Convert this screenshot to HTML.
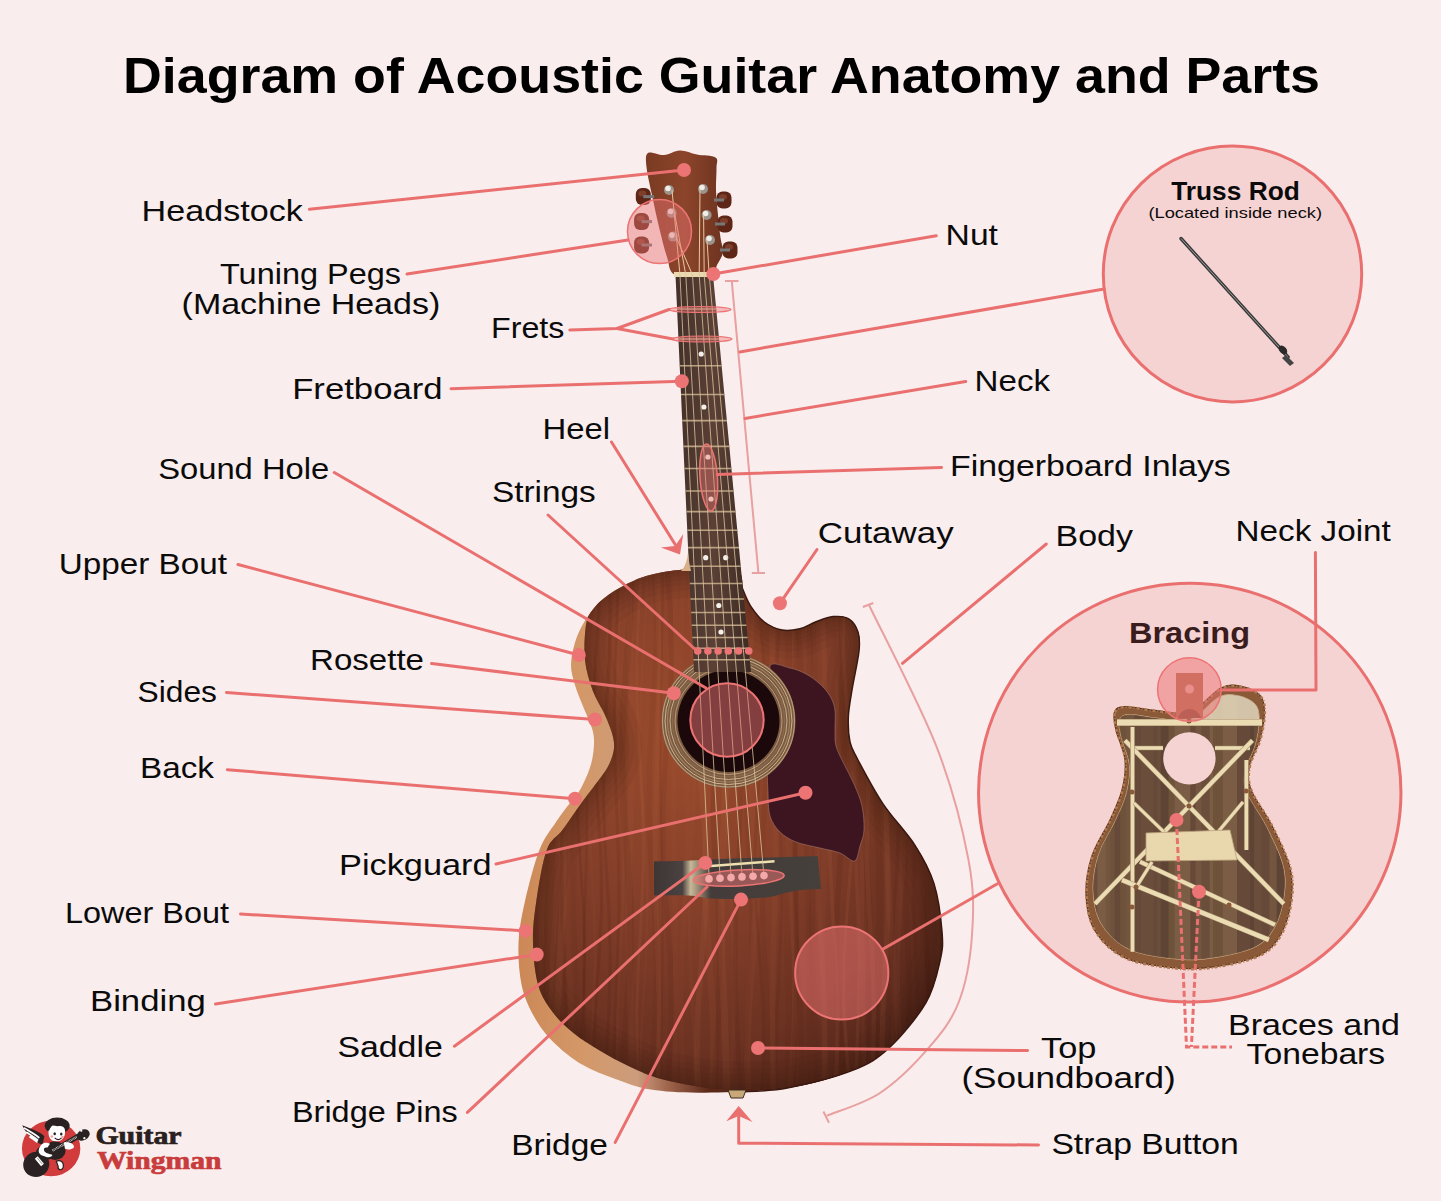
<!DOCTYPE html>
<html><head><meta charset="utf-8"><style>
html,body{margin:0;padding:0;background:#FAEDED;width:1441px;height:1201px;overflow:hidden}
svg{display:block}
</style></head><body>
<svg width="1441" height="1201" viewBox="0 0 1441 1201">
<defs>
<linearGradient id="gHead" x1="0" y1="0" x2="1" y2="0"><stop offset="0" stop-color="#7a3a22"/><stop offset="0.5" stop-color="#8c452b"/><stop offset="1" stop-color="#6e3320"/></linearGradient>
<radialGradient id="gTop" cx="0.38" cy="0.32" r="0.8"><stop offset="0" stop-color="#9c4c2c"/><stop offset="0.4" stop-color="#86402a"/><stop offset="0.75" stop-color="#6c3222"/><stop offset="1" stop-color="#4c2218"/></radialGradient>
<linearGradient id="gSide" x1="0" y1="0" x2="1" y2="0"><stop offset="0" stop-color="#cc8856"/><stop offset="0.15" stop-color="#d49868"/><stop offset="0.28" stop-color="#cc9c7c"/><stop offset="0.36" stop-color="#9a6048"/><stop offset="0.45" stop-color="#5a2818"/><stop offset="1" stop-color="#4a2018"/></linearGradient>
<linearGradient id="gBoard" x1="0" y1="0" x2="1" y2="0"><stop offset="0" stop-color="#42302a"/><stop offset="0.5" stop-color="#5a4036"/><stop offset="1" stop-color="#3c2a24"/></linearGradient>
<linearGradient id="gBridge" x1="0" y1="0" x2="1" y2="0"><stop offset="0" stop-color="#3e3634"/><stop offset="0.17" stop-color="#4a4240"/><stop offset="0.22" stop-color="#c8b898"/><stop offset="0.28" stop-color="#8a7a68"/><stop offset="0.34" stop-color="#443c3a"/><stop offset="1" stop-color="#45403c"/></linearGradient>
<radialGradient id="gWood" cx="0.5" cy="0.5" r="0.6"><stop offset="0" stop-color="#7c5a44"/><stop offset="1" stop-color="#5e4232"/></radialGradient>
<pattern id="grain" width="23" height="120" patternUnits="userSpaceOnUse"><path d="M4,0 C7,30 2,80 4,120" stroke="#3a1408" stroke-opacity="0.10" stroke-width="4" fill="none"/><path d="M15,0 C13,40 18,70 15,120" stroke="#c07050" stroke-opacity="0.08" stroke-width="3" fill="none"/></pattern>

</defs>
<rect width="1441" height="1201" fill="#FAEDED"/>
<ellipse cx="1232.5" cy="274" rx="129.2" ry="127.9" fill="#F6D3D3" stroke="#EA7070" stroke-width="3"/>
<ellipse cx="1189.75" cy="792.6" rx="211.2" ry="209.4" fill="#F6D3D3" stroke="#EA7070" stroke-width="3"/>
<path d="M869.0,605.0 C880.2,628.6 919.9,704.2 936.5,746.7 C953.1,789.2 962.6,828.6 968.5,860.0 C974.4,891.4 973.6,911.2 972.0,935.0 C970.4,958.8 966.0,983.5 958.6,1002.5 C951.2,1021.5 940.6,1034.1 927.5,1049.2 C914.4,1064.3 896.8,1081.9 880.0,1093.0 C863.2,1104.1 835.8,1111.9 827.0,1115.7" fill="none" stroke="#E8A0A0" stroke-width="2"/>
<path d="M862.9,607 L873.3,603 M823.4,111.5" stroke="#E8A0A0" stroke-width="2"/>
<path d="M823.4,1111.5 L829,1122.8" stroke="#E8A0A0" stroke-width="2"/>
<path d="M731.8,281.3 L758.4,572.9 M725,281 L738.5,281 M751.8,573 L765,573" stroke="#E8A0A0" stroke-width="2" fill="none"/>
<path d="M736.0,570.0 C744.9,573.7 741.0,584.9 743.5,591.0 C746.0,597.1 747.5,601.4 751.0,606.6 C754.5,611.8 759.1,618.1 764.3,622.0 C769.5,625.9 776.1,628.9 782.0,630.0 C787.9,631.1 794.2,630.1 799.8,628.8 C805.4,627.5 809.9,624.0 815.4,622.0 C820.9,620.0 827.5,617.1 833.0,616.6 C838.5,616.1 844.5,616.2 848.7,618.8 C852.9,621.4 856.3,626.6 858.0,632.0 C859.7,637.4 860.0,641.3 859.0,651.0 C858.0,660.7 853.8,678.9 852.0,690.0 C850.2,701.1 848.6,708.8 848.3,717.5 C848.0,726.2 848.5,735.1 850.0,742.0 C851.5,748.9 852.0,748.7 857.5,759.0 C863.0,769.3 873.4,789.4 883.0,803.8 C892.6,818.2 906.5,832.0 915.0,845.3 C923.5,858.6 929.5,869.2 934.0,883.6 C938.5,898.0 941.0,918.8 942.0,931.5 C943.0,944.2 942.9,948.2 940.2,960.0 C937.5,971.8 934.5,987.9 926.0,1002.5 C917.5,1017.1 901.5,1036.5 889.3,1047.8 C877.0,1059.1 869.5,1063.7 852.5,1070.4 C835.5,1077.1 811.9,1084.3 787.3,1088.0 C762.7,1091.7 727.8,1092.4 705.0,1092.7 C682.2,1093.0 665.7,1091.9 650.8,1089.6 C635.9,1087.3 626.9,1083.2 615.4,1079.0 C603.9,1074.8 592.4,1070.8 582.0,1064.6 C571.6,1058.4 561.0,1049.7 553.0,1041.7 C545.0,1033.7 539.4,1026.1 534.2,1016.7 C529.0,1007.3 524.3,997.6 521.7,985.4 C519.1,973.2 518.0,957.6 518.5,943.7 C519.0,929.8 521.3,917.6 524.8,902.0 C528.3,886.4 534.2,863.3 539.4,850.0 C544.6,836.7 550.9,829.8 556.0,822.0 C561.1,814.2 566.0,808.3 570.0,803.0 C574.0,797.7 576.7,795.9 580.0,790.0 C583.3,784.1 587.7,774.6 590.0,767.5 C592.3,760.4 593.4,753.8 593.8,747.5 C594.2,741.2 594.4,737.1 592.5,730.0 C590.6,722.9 585.4,712.5 582.5,705.0 C579.6,697.5 576.9,691.7 575.0,685.0 C573.1,678.3 571.0,672.1 571.0,665.0 C571.0,657.9 573.1,649.2 575.0,642.5 C576.9,635.8 579.6,630.4 582.5,625.0 C585.4,619.6 588.8,614.6 592.5,610.0 C596.2,605.4 599.6,601.7 605.0,597.5 C610.4,593.3 617.5,588.8 625.0,585.0 C632.5,581.2 639.2,577.7 650.0,575.0 C660.8,572.3 675.7,569.8 690.0,569.0 C704.3,568.2 727.1,566.3 736.0,570.0Z" fill="url(#gSide)"/>
<path d="M736.0,570.0 C744.9,573.7 741.0,584.9 743.5,591.0 C746.0,597.1 747.5,601.4 751.0,606.6 C754.5,611.8 759.1,618.1 764.3,622.0 C769.5,625.9 776.1,628.9 782.0,630.0 C787.9,631.1 794.2,630.1 799.8,628.8 C805.4,627.5 809.9,624.0 815.4,622.0 C820.9,620.0 827.5,617.1 833.0,616.6 C838.5,616.1 844.5,616.2 848.7,618.8 C852.9,621.4 856.3,626.6 858.0,632.0 C859.7,637.4 860.0,641.3 859.0,651.0 C858.0,660.7 853.8,678.9 852.0,690.0 C850.2,701.1 848.6,708.8 848.3,717.5 C848.0,726.2 848.5,735.1 850.0,742.0 C851.5,748.9 852.0,748.7 857.5,759.0 C863.0,769.3 873.4,789.4 883.0,803.8 C892.6,818.2 906.5,832.0 915.0,845.3 C923.5,858.6 929.5,869.2 934.0,883.6 C938.5,898.0 941.0,918.8 942.0,931.5 C943.0,944.2 942.9,948.2 940.2,960.0 C937.5,971.8 934.5,987.9 926.0,1002.5 C917.5,1017.1 901.5,1036.5 889.3,1047.8 C877.0,1059.1 869.5,1063.7 852.5,1070.4 C835.5,1077.1 807.8,1084.9 787.3,1088.0 C766.8,1091.1 743.5,1089.1 729.8,1089.0 C716.1,1088.9 716.4,1089.2 705.0,1087.5 C693.6,1085.8 673.8,1082.5 661.2,1079.0 C648.8,1075.5 640.4,1071.5 630.0,1066.7 C619.6,1061.9 608.1,1055.6 598.8,1050.0 C589.4,1044.4 581.4,1039.5 573.8,1033.3 C566.1,1027.0 558.9,1020.5 553.0,1012.5 C547.1,1004.5 541.6,996.9 538.3,985.4 C535.0,973.9 533.4,957.6 533.0,943.7 C532.6,929.8 533.9,917.6 536.2,902.0 C538.5,886.4 542.3,862.0 546.7,850.0 C551.1,838.0 557.0,837.5 562.5,830.0 C568.0,822.5 574.6,812.5 580.0,805.0 C585.4,797.5 590.4,791.2 595.0,785.0 C599.6,778.8 604.4,773.3 607.5,767.5 C610.6,761.7 613.0,755.4 613.8,750.0 C614.6,744.6 614.0,740.8 612.5,735.0 C611.0,729.2 608.3,722.5 605.0,715.0 C601.7,707.5 595.8,699.2 592.5,690.0 C589.2,680.8 586.1,670.8 585.0,660.0 C583.9,649.2 584.8,633.3 586.0,625.0 C587.2,616.7 589.3,614.6 592.5,610.0 C595.7,605.4 599.6,601.7 605.0,597.5 C610.4,593.3 617.5,588.8 625.0,585.0 C632.5,581.2 639.2,577.7 650.0,575.0 C660.8,572.3 675.7,569.8 690.0,569.0 C704.3,568.2 727.1,566.3 736.0,570.0Z" fill="url(#gTop)"/>
<clipPath id="topclip0"><path d="M736.0,570.0 C744.9,573.7 741.0,584.9 743.5,591.0 C746.0,597.1 747.5,601.4 751.0,606.6 C754.5,611.8 759.1,618.1 764.3,622.0 C769.5,625.9 776.1,628.9 782.0,630.0 C787.9,631.1 794.2,630.1 799.8,628.8 C805.4,627.5 809.9,624.0 815.4,622.0 C820.9,620.0 827.5,617.1 833.0,616.6 C838.5,616.1 844.5,616.2 848.7,618.8 C852.9,621.4 856.3,626.6 858.0,632.0 C859.7,637.4 860.0,641.3 859.0,651.0 C858.0,660.7 853.8,678.9 852.0,690.0 C850.2,701.1 848.6,708.8 848.3,717.5 C848.0,726.2 848.5,735.1 850.0,742.0 C851.5,748.9 852.0,748.7 857.5,759.0 C863.0,769.3 873.4,789.4 883.0,803.8 C892.6,818.2 906.5,832.0 915.0,845.3 C923.5,858.6 929.5,869.2 934.0,883.6 C938.5,898.0 941.0,918.8 942.0,931.5 C943.0,944.2 942.9,948.2 940.2,960.0 C937.5,971.8 934.5,987.9 926.0,1002.5 C917.5,1017.1 901.5,1036.5 889.3,1047.8 C877.0,1059.1 869.5,1063.7 852.5,1070.4 C835.5,1077.1 807.8,1084.9 787.3,1088.0 C766.8,1091.1 743.5,1089.1 729.8,1089.0 C716.1,1088.9 716.4,1089.2 705.0,1087.5 C693.6,1085.8 673.8,1082.5 661.2,1079.0 C648.8,1075.5 640.4,1071.5 630.0,1066.7 C619.6,1061.9 608.1,1055.6 598.8,1050.0 C589.4,1044.4 581.4,1039.5 573.8,1033.3 C566.1,1027.0 558.9,1020.5 553.0,1012.5 C547.1,1004.5 541.6,996.9 538.3,985.4 C535.0,973.9 533.4,957.6 533.0,943.7 C532.6,929.8 533.9,917.6 536.2,902.0 C538.5,886.4 542.3,862.0 546.7,850.0 C551.1,838.0 557.0,837.5 562.5,830.0 C568.0,822.5 574.6,812.5 580.0,805.0 C585.4,797.5 590.4,791.2 595.0,785.0 C599.6,778.8 604.4,773.3 607.5,767.5 C610.6,761.7 613.0,755.4 613.8,750.0 C614.6,744.6 614.0,740.8 612.5,735.0 C611.0,729.2 608.3,722.5 605.0,715.0 C601.7,707.5 595.8,699.2 592.5,690.0 C589.2,680.8 586.1,670.8 585.0,660.0 C583.9,649.2 584.8,633.3 586.0,625.0 C587.2,616.7 589.3,614.6 592.5,610.0 C595.7,605.4 599.6,601.7 605.0,597.5 C610.4,593.3 617.5,588.8 625.0,585.0 C632.5,581.2 639.2,577.7 650.0,575.0 C660.8,572.3 675.7,569.8 690.0,569.0 C704.3,568.2 727.1,566.3 736.0,570.0Z"/></clipPath>
<g clip-path="url(#topclip0)">
<path d="M519.9,560.0 L517.7,610.0 L517.2,660.0 L518.9,710.0 L521.4,760.0 L522.8,810.0 L522.1,860.0 L519.8,910.0 L517.6,960.0 L517.3,1010.0 L518.9,1060.0 L521.4,1110.0" stroke="#c87850" stroke-opacity="0.114" stroke-width="4.3" fill="none" stroke-linejoin="round"/>
<path d="M529.4,560.0 L531.3,610.0 L530.0,660.0 L526.5,710.0 L523.5,760.0 L523.2,810.0 L525.9,860.0 L529.5,910.0 L531.3,960.0 L529.9,1010.0 L526.4,1060.0 L523.5,1110.0" stroke="#c87850" stroke-opacity="0.090" stroke-width="2.9" fill="none" stroke-linejoin="round"/>
<path d="M532.1,560.0 L533.1,610.0 L533.4,660.0 L532.9,710.0 L531.8,760.0 L531.1,810.0 L531.3,860.0 L532.1,910.0 L533.1,960.0 L533.4,1010.0 L532.8,1060.0 L531.8,1110.0" stroke="#c87850" stroke-opacity="0.095" stroke-width="2.5" fill="none" stroke-linejoin="round"/>
<path d="M541.8,560.0 L541.1,610.0 L541.0,660.0 L541.7,710.0 L542.6,760.0 L543.0,810.0 L542.7,860.0 L541.8,910.0 L541.0,960.0 L541.0,1010.0 L541.7,1060.0 L542.6,1110.0" stroke="#c87850" stroke-opacity="0.053" stroke-width="5.3" fill="none" stroke-linejoin="round"/>
<path d="M546.5,560.0 L544.0,610.0 L542.6,660.0 L543.3,710.0 L545.6,760.0 L547.8,810.0 L548.1,860.0 L546.4,910.0 L543.9,960.0 L542.6,1010.0 L543.4,1060.0 L545.7,1110.0" stroke="#3a1408" stroke-opacity="0.042" stroke-width="3.0" fill="none" stroke-linejoin="round"/>
<path d="M555.3,560.0 L552.2,610.0 L550.7,660.0 L551.9,710.0 L555.0,760.0 L557.5,810.0 L557.6,860.0 L555.2,910.0 L552.1,960.0 L550.7,1010.0 L552.0,1060.0 L555.0,1110.0" stroke="#c87850" stroke-opacity="0.080" stroke-width="4.6" fill="none" stroke-linejoin="round"/>
<path d="M562.8,560.0 L560.2,610.0 L557.0,660.0 L555.4,710.0 L556.8,760.0 L560.0,810.0 L562.7,860.0 L562.7,910.0 L560.2,960.0 L556.9,1010.0 L555.4,1060.0 L556.8,1110.0" stroke="#c87850" stroke-opacity="0.107" stroke-width="7.0" fill="none" stroke-linejoin="round"/>
<path d="M561.7,560.0 L563.7,610.0 L565.8,660.0 L566.4,710.0 L565.1,760.0 L562.9,810.0 L561.4,860.0 L561.7,910.0 L563.7,960.0 L565.8,1010.0 L566.4,1060.0 L565.1,1110.0" stroke="#3a1408" stroke-opacity="0.101" stroke-width="3.4" fill="none" stroke-linejoin="round"/>
<path d="M568.6,560.0 L570.2,610.0 L571.3,660.0 L571.1,710.0 L569.8,760.0 L568.3,810.0 L567.7,860.0 L568.6,910.0 L570.2,960.0 L571.3,1010.0 L571.1,1060.0 L569.7,1110.0" stroke="#c87850" stroke-opacity="0.040" stroke-width="6.8" fill="none" stroke-linejoin="round"/>
<path d="M572.4,560.0 L574.2,610.0 L577.2,660.0 L579.2,710.0 L578.7,760.0 L576.0,810.0 L573.2,860.0 L572.4,910.0 L574.2,960.0 L577.3,1010.0 L579.3,1060.0 L578.6,1110.0" stroke="#3a1408" stroke-opacity="0.046" stroke-width="6.9" fill="none" stroke-linejoin="round"/>
<path d="M583.5,560.0 L584.8,610.0 L583.0,660.0 L579.6,710.0 L577.0,760.0 L577.3,810.0 L580.2,860.0 L583.5,910.0 L584.8,960.0 L583.0,1010.0 L579.5,1060.0 L577.0,1110.0" stroke="#3a1408" stroke-opacity="0.117" stroke-width="2.4" fill="none" stroke-linejoin="round"/>
<path d="M584.8,560.0 L583.8,610.0 L584.1,660.0 L585.3,710.0 L586.7,760.0 L587.2,810.0 L586.3,860.0 L584.8,910.0 L583.8,960.0 L584.1,1010.0 L585.4,1060.0 L586.7,1110.0" stroke="#3a1408" stroke-opacity="0.104" stroke-width="2.5" fill="none" stroke-linejoin="round"/>
<path d="M594.0,560.0 L595.2,610.0 L593.6,660.0 L590.6,710.0 L588.3,760.0 L588.5,810.0 L591.1,860.0 L594.0,910.0 L595.2,960.0 L593.6,1010.0 L590.5,1060.0 L588.3,1110.0" stroke="#c87850" stroke-opacity="0.050" stroke-width="3.0" fill="none" stroke-linejoin="round"/>
<path d="M601.5,560.0 L598.9,610.0 L595.3,660.0 L593.4,710.0 L594.6,760.0 L598.1,810.0 L601.1,860.0 L601.5,910.0 L598.8,960.0 L595.2,1010.0 L593.3,1060.0 L594.7,1110.0" stroke="#3a1408" stroke-opacity="0.118" stroke-width="3.1" fill="none" stroke-linejoin="round"/>
<path d="M608.8,560.0 L610.3,610.0 L609.1,660.0 L606.1,710.0 L603.6,760.0 L603.5,810.0 L605.8,860.0 L608.9,910.0 L610.3,960.0 L609.0,1010.0 L606.0,1060.0 L603.5,1110.0" stroke="#3a1408" stroke-opacity="0.108" stroke-width="3.1" fill="none" stroke-linejoin="round"/>
<path d="M618.9,560.0 L617.5,610.0 L615.5,660.0 L614.4,710.0 L615.0,760.0 L616.8,810.0 L618.6,860.0 L618.9,910.0 L617.5,960.0 L615.5,1010.0 L614.4,1060.0 L615.0,1110.0" stroke="#3a1408" stroke-opacity="0.102" stroke-width="3.1" fill="none" stroke-linejoin="round"/>
<path d="M622.6,560.0 L619.9,610.0 L617.3,660.0 L616.9,710.0 L619.0,760.0 L622.0,810.0 L623.6,860.0 L622.6,910.0 L619.8,960.0 L617.3,1010.0 L617.0,1060.0 L619.1,1110.0" stroke="#c87850" stroke-opacity="0.059" stroke-width="2.5" fill="none" stroke-linejoin="round"/>
<path d="M630.4,560.0 L630.3,610.0 L627.2,660.0 L623.4,710.0 L621.9,760.0 L623.7,810.0 L627.5,860.0 L630.5,910.0 L630.3,960.0 L627.1,1010.0 L623.4,1060.0 L621.9,1110.0" stroke="#3a1408" stroke-opacity="0.086" stroke-width="6.8" fill="none" stroke-linejoin="round"/>
<path d="M628.7,560.0 L629.2,610.0 L630.7,660.0 L632.0,710.0 L632.1,760.0 L630.9,810.0 L629.4,860.0 L628.7,910.0 L629.3,960.0 L630.7,1010.0 L632.0,1060.0 L632.0,1110.0" stroke="#c87850" stroke-opacity="0.060" stroke-width="6.5" fill="none" stroke-linejoin="round"/>
<path d="M641.6,560.0 L638.7,610.0 L636.7,660.0 L637.3,710.0 L639.9,760.0 L642.6,810.0 L643.4,860.0 L641.6,910.0 L638.6,960.0 L636.7,1010.0 L637.3,1060.0 L639.9,1110.0" stroke="#c87850" stroke-opacity="0.111" stroke-width="3.0" fill="none" stroke-linejoin="round"/>
<path d="M647.6,560.0 L646.0,610.0 L642.7,660.0 L640.2,710.0 L640.4,760.0 L643.1,810.0 L646.3,860.0 L647.5,910.0 L645.9,960.0 L642.6,1010.0 L640.2,1060.0 L640.4,1110.0" stroke="#c87850" stroke-opacity="0.059" stroke-width="2.2" fill="none" stroke-linejoin="round"/>
<path d="M654.1,560.0 L656.3,610.0 L655.6,660.0 L652.5,710.0 L649.5,760.0 L648.7,810.0 L650.8,860.0 L654.2,910.0 L656.3,960.0 L655.5,1010.0 L652.5,1060.0 L649.4,1110.0" stroke="#3a1408" stroke-opacity="0.054" stroke-width="5.0" fill="none" stroke-linejoin="round"/>
<path d="M656.0,560.0 L657.9,610.0 L659.1,660.0 L658.8,710.0 L657.2,760.0 L655.5,810.0 L655.0,860.0 L656.1,910.0 L657.9,960.0 L659.1,1010.0 L658.8,1060.0 L657.2,1110.0" stroke="#c87850" stroke-opacity="0.089" stroke-width="4.8" fill="none" stroke-linejoin="round"/>
<path d="M662.6,560.0 L662.7,610.0 L661.8,660.0 L660.8,710.0 L660.3,760.0 L660.8,810.0 L661.8,860.0 L662.6,910.0 L662.6,960.0 L661.8,1010.0 L660.7,1060.0 L660.3,1110.0" stroke="#3a1408" stroke-opacity="0.076" stroke-width="2.1" fill="none" stroke-linejoin="round"/>
<path d="M666.5,560.0 L670.3,610.0 L671.7,660.0 L669.6,710.0 L665.6,760.0 L662.8,810.0 L663.2,860.0 L666.6,910.0 L670.4,960.0 L671.6,1010.0 L669.5,1060.0 L665.5,1110.0" stroke="#3a1408" stroke-opacity="0.069" stroke-width="4.9" fill="none" stroke-linejoin="round"/>
<path d="M674.8,560.0 L675.7,610.0 L675.8,660.0 L675.1,710.0 L674.1,760.0 L673.6,810.0 L673.9,860.0 L674.9,910.0 L675.7,960.0 L675.8,1010.0 L675.1,1060.0 L674.1,1110.0" stroke="#c87850" stroke-opacity="0.051" stroke-width="5.5" fill="none" stroke-linejoin="round"/>
<path d="M684.5,560.0 L681.6,610.0 L680.6,660.0 L682.2,710.0 L685.3,760.0 L687.4,810.0 L687.1,860.0 L684.4,910.0 L681.5,960.0 L680.6,1010.0 L682.3,1060.0 L685.3,1110.0" stroke="#c87850" stroke-opacity="0.042" stroke-width="5.5" fill="none" stroke-linejoin="round"/>
<path d="M689.0,560.0 L690.0,610.0 L692.7,660.0 L694.9,710.0 L695.2,760.0 L693.1,810.0 L690.4,860.0 L689.0,910.0 L690.1,960.0 L692.7,1010.0 L695.0,1060.0 L695.1,1110.0" stroke="#c87850" stroke-opacity="0.046" stroke-width="3.6" fill="none" stroke-linejoin="round"/>
<path d="M705.2,560.0 L701.6,610.0 L697.9,660.0 L696.9,710.0 L699.4,760.0 L703.4,810.0 L706.0,860.0 L705.2,910.0 L701.6,960.0 L697.9,1010.0 L696.9,1060.0 L699.4,1110.0" stroke="#c87850" stroke-opacity="0.103" stroke-width="5.7" fill="none" stroke-linejoin="round"/>
<path d="M706.1,560.0 L709.5,610.0 L712.7,660.0 L713.3,710.0 L710.9,760.0 L707.3,810.0 L705.2,860.0 L706.2,910.0 L709.5,960.0 L712.7,1010.0 L713.3,1060.0 L710.9,1110.0" stroke="#c87850" stroke-opacity="0.073" stroke-width="6.5" fill="none" stroke-linejoin="round"/>
<path d="M718.0,560.0 L719.7,610.0 L718.9,660.0 L716.1,710.0 L713.5,760.0 L713.0,810.0 L715.0,860.0 L718.0,910.0 L719.7,960.0 L718.8,1010.0 L716.0,1060.0 L713.5,1110.0" stroke="#3a1408" stroke-opacity="0.087" stroke-width="5.1" fill="none" stroke-linejoin="round"/>
<path d="M721.2,560.0 L722.0,610.0 L724.1,660.0 L726.0,710.0 L726.2,760.0 L724.6,810.0 L722.4,860.0 L721.2,910.0 L722.0,960.0 L724.2,1010.0 L726.0,1060.0 L726.2,1110.0" stroke="#c87850" stroke-opacity="0.098" stroke-width="7.0" fill="none" stroke-linejoin="round"/>
<path d="M731.6,560.0 L734.4,610.0 L734.5,660.0 L731.9,710.0 L728.4,760.0 L726.8,810.0 L728.3,860.0 L731.7,910.0 L734.4,960.0 L734.5,1010.0 L731.8,1060.0 L728.4,1110.0" stroke="#c87850" stroke-opacity="0.047" stroke-width="4.2" fill="none" stroke-linejoin="round"/>
<path d="M736.1,560.0 L735.1,610.0 L736.3,660.0 L738.9,710.0 L740.8,760.0 L740.7,810.0 L738.5,860.0 L736.1,910.0 L735.1,960.0 L736.3,1010.0 L738.9,1060.0 L740.8,1110.0" stroke="#3a1408" stroke-opacity="0.096" stroke-width="4.4" fill="none" stroke-linejoin="round"/>
<path d="M751.0,560.0 L750.6,610.0 L747.8,660.0 L744.8,710.0 L743.8,760.0 L745.7,810.0 L748.9,860.0 L751.1,910.0 L750.5,960.0 L747.7,1010.0 L744.7,1060.0 L743.8,1110.0" stroke="#3a1408" stroke-opacity="0.064" stroke-width="3.3" fill="none" stroke-linejoin="round"/>
<path d="M755.7,560.0 L752.5,610.0 L748.7,660.0 L747.1,710.0 L749.0,760.0 L752.9,810.0 L755.9,860.0 L755.7,910.0 L752.5,960.0 L748.6,1010.0 L747.1,1060.0 L749.1,1110.0" stroke="#c87850" stroke-opacity="0.075" stroke-width="6.5" fill="none" stroke-linejoin="round"/>
<path d="M756.2,560.0 L760.0,610.0 L763.4,660.0 L763.7,710.0 L760.7,760.0 L756.7,810.0 L754.7,860.0 L756.2,910.0 L760.1,960.0 L763.4,1010.0 L763.7,1060.0 L760.6,1110.0" stroke="#3a1408" stroke-opacity="0.104" stroke-width="3.0" fill="none" stroke-linejoin="round"/>
<path d="M762.5,560.0 L764.7,610.0 L767.1,660.0 L768.0,710.0 L766.6,760.0 L764.1,810.0 L762.2,860.0 L762.5,910.0 L764.7,960.0 L767.2,1010.0 L768.0,1060.0 L766.6,1110.0" stroke="#3a1408" stroke-opacity="0.051" stroke-width="4.9" fill="none" stroke-linejoin="round"/>
<path d="M774.5,560.0 L773.0,610.0 L772.3,660.0 L772.8,710.0 L774.2,760.0 L775.4,810.0 L775.5,860.0 L774.5,910.0 L773.0,960.0 L772.3,1010.0 L772.9,1060.0 L774.3,1110.0" stroke="#c87850" stroke-opacity="0.062" stroke-width="5.6" fill="none" stroke-linejoin="round"/>
<path d="M781.6,560.0 L779.7,610.0 L777.1,660.0 L775.9,710.0 L777.0,760.0 L779.5,810.0 L781.6,860.0 L781.6,910.0 L779.6,960.0 L777.1,1010.0 L775.9,1060.0 L777.0,1110.0" stroke="#3a1408" stroke-opacity="0.090" stroke-width="3.1" fill="none" stroke-linejoin="round"/>
<path d="M787.0,560.0 L787.9,610.0 L788.7,660.0 L788.8,710.0 L788.2,760.0 L787.2,810.0 L786.7,860.0 L787.0,910.0 L787.9,960.0 L788.7,1010.0 L788.8,1060.0 L788.1,1110.0" stroke="#3a1408" stroke-opacity="0.046" stroke-width="6.9" fill="none" stroke-linejoin="round"/>
<path d="M791.6,560.0 L794.6,610.0 L795.0,660.0 L792.4,710.0 L788.8,760.0 L786.9,810.0 L788.2,860.0 L791.6,910.0 L794.7,960.0 L795.0,1010.0 L792.3,1060.0 L788.7,1110.0" stroke="#c87850" stroke-opacity="0.065" stroke-width="5.5" fill="none" stroke-linejoin="round"/>
<path d="M796.5,560.0 L796.9,610.0 L795.9,660.0 L794.2,710.0 L793.1,760.0 L793.5,810.0 L795.0,860.0 L796.5,910.0 L796.9,960.0 L795.8,1010.0 L794.2,1060.0 L793.1,1110.0" stroke="#3a1408" stroke-opacity="0.106" stroke-width="4.3" fill="none" stroke-linejoin="round"/>
<path d="M795.0,560.0 L797.2,610.0 L800.4,660.0 L802.0,710.0 L800.8,760.0 L797.8,810.0 L795.2,860.0 L795.0,910.0 L797.3,960.0 L800.4,1010.0 L802.0,1060.0 L800.8,1110.0" stroke="#3a1408" stroke-opacity="0.090" stroke-width="5.1" fill="none" stroke-linejoin="round"/>
<path d="M808.2,560.0 L809.5,610.0 L809.7,660.0 L808.7,710.0 L807.2,760.0 L806.4,810.0 L806.8,860.0 L808.2,910.0 L809.5,960.0 L809.7,1010.0 L808.7,1060.0 L807.2,1110.0" stroke="#3a1408" stroke-opacity="0.078" stroke-width="5.4" fill="none" stroke-linejoin="round"/>
<path d="M812.1,560.0 L812.4,610.0 L814.1,660.0 L816.1,710.0 L816.7,760.0 L815.6,810.0 L813.5,860.0 L812.1,910.0 L812.4,960.0 L814.2,1010.0 L816.1,1060.0 L816.7,1110.0" stroke="#3a1408" stroke-opacity="0.062" stroke-width="5.6" fill="none" stroke-linejoin="round"/>
<path d="M818.7,560.0 L822.3,610.0 L824.9,660.0 L824.6,710.0 L821.6,760.0 L818.1,810.0 L816.9,860.0 L818.7,910.0 L822.3,960.0 L824.9,1010.0 L824.5,1060.0 L821.5,1110.0" stroke="#c87850" stroke-opacity="0.071" stroke-width="5.1" fill="none" stroke-linejoin="round"/>
<path d="M822.6,560.0 L821.8,610.0 L823.1,660.0 L825.6,710.0 L827.3,760.0 L827.0,810.0 L824.9,860.0 L822.6,910.0 L821.8,960.0 L823.2,1010.0 L825.6,1060.0 L827.3,1110.0" stroke="#c87850" stroke-opacity="0.050" stroke-width="6.7" fill="none" stroke-linejoin="round"/>
<path d="M832.5,560.0 L836.2,610.0 L838.1,660.0 L837.0,710.0 L833.5,760.0 L830.5,810.0 L830.0,860.0 L832.6,910.0 L836.2,960.0 L838.1,1010.0 L836.9,1060.0 L833.5,1110.0" stroke="#c87850" stroke-opacity="0.110" stroke-width="3.9" fill="none" stroke-linejoin="round"/>
<path d="M836.9,560.0 L836.1,610.0 L838.4,660.0 L842.1,710.0 L844.4,760.0 L843.6,810.0 L840.2,860.0 L836.9,910.0 L836.1,960.0 L838.4,1010.0 L842.1,1060.0 L844.4,1110.0" stroke="#3a1408" stroke-opacity="0.098" stroke-width="5.3" fill="none" stroke-linejoin="round"/>
<path d="M847.1,560.0 L843.8,610.0 L843.9,660.0 L847.2,710.0 L851.4,760.0 L853.2,810.0 L851.2,860.0 L847.1,910.0 L843.8,960.0 L843.9,1010.0 L847.3,1060.0 L851.4,1110.0" stroke="#c87850" stroke-opacity="0.118" stroke-width="3.1" fill="none" stroke-linejoin="round"/>
<path d="M858.0,560.0 L859.2,610.0 L858.5,660.0 L856.6,710.0 L854.8,760.0 L854.5,810.0 L855.9,860.0 L858.0,910.0 L859.2,960.0 L858.5,1010.0 L856.6,1060.0 L854.8,1110.0" stroke="#c87850" stroke-opacity="0.108" stroke-width="3.6" fill="none" stroke-linejoin="round"/>
<path d="M861.8,560.0 L862.5,610.0 L863.5,660.0 L864.0,710.0 L863.6,760.0 L862.7,810.0 L861.9,860.0 L861.8,910.0 L862.6,960.0 L863.5,1010.0 L864.0,1060.0 L863.6,1110.0" stroke="#c87850" stroke-opacity="0.079" stroke-width="4.8" fill="none" stroke-linejoin="round"/>
<path d="M869.5,560.0 L870.4,610.0 L868.2,660.0 L864.6,710.0 L862.3,760.0 L863.1,810.0 L866.3,860.0 L869.6,910.0 L870.4,960.0 L868.1,1010.0 L864.5,1060.0 L862.3,1110.0" stroke="#3a1408" stroke-opacity="0.067" stroke-width="6.0" fill="none" stroke-linejoin="round"/>
<path d="M869.1,560.0 L872.3,610.0 L874.1,660.0 L873.0,710.0 L869.9,760.0 L867.2,810.0 L866.8,860.0 L869.2,910.0 L872.4,960.0 L874.1,1010.0 L873.0,1060.0 L869.9,1110.0" stroke="#c87850" stroke-opacity="0.107" stroke-width="4.6" fill="none" stroke-linejoin="round"/>
<path d="M879.8,560.0 L878.1,610.0 L875.4,660.0 L873.8,710.0 L874.5,760.0 L876.9,810.0 L879.3,860.0 L879.8,910.0 L878.0,960.0 L875.3,1010.0 L873.8,1060.0 L874.5,1110.0" stroke="#3a1408" stroke-opacity="0.058" stroke-width="6.7" fill="none" stroke-linejoin="round"/>
<path d="M887.9,560.0 L885.8,610.0 L883.0,660.0 L881.7,710.0 L882.8,760.0 L885.5,810.0 L887.8,860.0 L887.9,910.0 L885.8,960.0 L883.0,1010.0 L881.7,1060.0 L882.8,1110.0" stroke="#c87850" stroke-opacity="0.107" stroke-width="5.2" fill="none" stroke-linejoin="round"/>
<path d="M889.7,560.0 L893.4,610.0 L895.0,660.0 L893.2,710.0 L889.5,760.0 L886.6,810.0 L886.7,860.0 L889.8,910.0 L893.5,960.0 L895.0,1010.0 L893.2,1060.0 L889.4,1110.0" stroke="#c87850" stroke-opacity="0.057" stroke-width="6.2" fill="none" stroke-linejoin="round"/>
<path d="M895.4,560.0 L894.2,610.0 L895.4,660.0 L897.9,710.0 L900.0,760.0 L900.0,810.0 L897.9,860.0 L895.4,910.0 L894.2,960.0 L895.4,1010.0 L898.0,1060.0 L900.0,1110.0" stroke="#3a1408" stroke-opacity="0.083" stroke-width="4.9" fill="none" stroke-linejoin="round"/>
<path d="M898.8,560.0 L896.4,610.0 L897.0,660.0 L900.2,710.0 L903.6,760.0 L904.6,810.0 L902.4,860.0 L898.8,910.0 L896.4,960.0 L897.1,1010.0 L900.3,1060.0 L903.7,1110.0" stroke="#c87850" stroke-opacity="0.072" stroke-width="6.8" fill="none" stroke-linejoin="round"/>
<path d="M906.2,560.0 L908.4,610.0 L909.5,660.0 L908.6,710.0 L906.4,760.0 L904.5,810.0 L904.5,860.0 L906.2,910.0 L908.5,960.0 L909.5,1010.0 L908.6,1060.0 L906.4,1110.0" stroke="#3a1408" stroke-opacity="0.083" stroke-width="5.5" fill="none" stroke-linejoin="round"/>
<path d="M913.8,560.0 L915.6,610.0 L918.0,660.0 L919.1,710.0 L918.1,760.0 L915.8,810.0 L913.9,860.0 L913.9,910.0 L915.7,960.0 L918.0,1010.0 L919.1,1060.0 L918.1,1110.0" stroke="#3a1408" stroke-opacity="0.050" stroke-width="3.3" fill="none" stroke-linejoin="round"/>
<path d="M924.1,560.0 L927.1,610.0 L929.0,660.0 L928.4,710.0 L925.7,760.0 L923.0,810.0 L922.3,860.0 L924.1,910.0 L927.1,960.0 L929.0,1010.0 L928.4,1060.0 L925.6,1110.0" stroke="#3a1408" stroke-opacity="0.055" stroke-width="4.4" fill="none" stroke-linejoin="round"/>
<path d="M927.8,560.0 L927.9,610.0 L929.2,660.0 L930.8,710.0 L931.5,760.0 L930.7,810.0 L929.0,860.0 L927.8,910.0 L927.9,960.0 L929.3,1010.0 L930.9,1060.0 L931.5,1110.0" stroke="#3a1408" stroke-opacity="0.056" stroke-width="5.9" fill="none" stroke-linejoin="round"/>
<path d="M937.5,560.0 L938.7,610.0 L936.9,660.0 L933.5,710.0 L931.1,760.0 L931.5,810.0 L934.4,860.0 L937.6,910.0 L938.7,960.0 L936.9,1010.0 L933.5,1060.0 L931.1,1110.0" stroke="#c87850" stroke-opacity="0.048" stroke-width="3.8" fill="none" stroke-linejoin="round"/>
<path d="M943.3,560.0 L941.1,610.0 L939.0,660.0 L938.8,710.0 L940.5,760.0 L942.9,810.0 L944.1,860.0 L943.3,910.0 L941.0,960.0 L939.0,1010.0 L938.8,1060.0 L940.6,1110.0" stroke="#3a1408" stroke-opacity="0.082" stroke-width="3.3" fill="none" stroke-linejoin="round"/>
</g>
<clipPath id="topclip"><path d="M736.0,570.0 C744.9,573.7 741.0,584.9 743.5,591.0 C746.0,597.1 747.5,601.4 751.0,606.6 C754.5,611.8 759.1,618.1 764.3,622.0 C769.5,625.9 776.1,628.9 782.0,630.0 C787.9,631.1 794.2,630.1 799.8,628.8 C805.4,627.5 809.9,624.0 815.4,622.0 C820.9,620.0 827.5,617.1 833.0,616.6 C838.5,616.1 844.5,616.2 848.7,618.8 C852.9,621.4 856.3,626.6 858.0,632.0 C859.7,637.4 860.0,641.3 859.0,651.0 C858.0,660.7 853.8,678.9 852.0,690.0 C850.2,701.1 848.6,708.8 848.3,717.5 C848.0,726.2 848.5,735.1 850.0,742.0 C851.5,748.9 852.0,748.7 857.5,759.0 C863.0,769.3 873.4,789.4 883.0,803.8 C892.6,818.2 906.5,832.0 915.0,845.3 C923.5,858.6 929.5,869.2 934.0,883.6 C938.5,898.0 941.0,918.8 942.0,931.5 C943.0,944.2 942.9,948.2 940.2,960.0 C937.5,971.8 934.5,987.9 926.0,1002.5 C917.5,1017.1 901.5,1036.5 889.3,1047.8 C877.0,1059.1 869.5,1063.7 852.5,1070.4 C835.5,1077.1 807.8,1084.9 787.3,1088.0 C766.8,1091.1 743.5,1089.1 729.8,1089.0 C716.1,1088.9 716.4,1089.2 705.0,1087.5 C693.6,1085.8 673.8,1082.5 661.2,1079.0 C648.8,1075.5 640.4,1071.5 630.0,1066.7 C619.6,1061.9 608.1,1055.6 598.8,1050.0 C589.4,1044.4 581.4,1039.5 573.8,1033.3 C566.1,1027.0 558.9,1020.5 553.0,1012.5 C547.1,1004.5 541.6,996.9 538.3,985.4 C535.0,973.9 533.4,957.6 533.0,943.7 C532.6,929.8 533.9,917.6 536.2,902.0 C538.5,886.4 542.3,862.0 546.7,850.0 C551.1,838.0 557.0,837.5 562.5,830.0 C568.0,822.5 574.6,812.5 580.0,805.0 C585.4,797.5 590.4,791.2 595.0,785.0 C599.6,778.8 604.4,773.3 607.5,767.5 C610.6,761.7 613.0,755.4 613.8,750.0 C614.6,744.6 614.0,740.8 612.5,735.0 C611.0,729.2 608.3,722.5 605.0,715.0 C601.7,707.5 595.8,699.2 592.5,690.0 C589.2,680.8 586.1,670.8 585.0,660.0 C583.9,649.2 584.8,633.3 586.0,625.0 C587.2,616.7 589.3,614.6 592.5,610.0 C595.7,605.4 599.6,601.7 605.0,597.5 C610.4,593.3 617.5,588.8 625.0,585.0 C632.5,581.2 639.2,577.7 650.0,575.0 C660.8,572.3 675.7,569.8 690.0,569.0 C704.3,568.2 727.1,566.3 736.0,570.0Z"/></clipPath>
<g clip-path="url(#topclip)"><path d="M736.0,570.0 C744.9,573.7 741.0,584.9 743.5,591.0 C746.0,597.1 747.5,601.4 751.0,606.6 C754.5,611.8 759.1,618.1 764.3,622.0 C769.5,625.9 776.1,628.9 782.0,630.0 C787.9,631.1 794.2,630.1 799.8,628.8 C805.4,627.5 809.9,624.0 815.4,622.0 C820.9,620.0 827.5,617.1 833.0,616.6 C838.5,616.1 844.5,616.2 848.7,618.8 C852.9,621.4 856.3,626.6 858.0,632.0 C859.7,637.4 860.0,641.3 859.0,651.0 C858.0,660.7 853.8,678.9 852.0,690.0 C850.2,701.1 848.6,708.8 848.3,717.5 C848.0,726.2 848.5,735.1 850.0,742.0 C851.5,748.9 852.0,748.7 857.5,759.0 C863.0,769.3 873.4,789.4 883.0,803.8 C892.6,818.2 906.5,832.0 915.0,845.3 C923.5,858.6 929.5,869.2 934.0,883.6 C938.5,898.0 941.0,918.8 942.0,931.5 C943.0,944.2 942.9,948.2 940.2,960.0 C937.5,971.8 934.5,987.9 926.0,1002.5 C917.5,1017.1 901.5,1036.5 889.3,1047.8 C877.0,1059.1 869.5,1063.7 852.5,1070.4 C835.5,1077.1 807.8,1084.9 787.3,1088.0 C766.8,1091.1 743.5,1089.1 729.8,1089.0 C716.1,1088.9 716.4,1089.2 705.0,1087.5 C693.6,1085.8 673.8,1082.5 661.2,1079.0 C648.8,1075.5 640.4,1071.5 630.0,1066.7 C619.6,1061.9 608.1,1055.6 598.8,1050.0 C589.4,1044.4 581.4,1039.5 573.8,1033.3 C566.1,1027.0 558.9,1020.5 553.0,1012.5 C547.1,1004.5 541.6,996.9 538.3,985.4 C535.0,973.9 533.4,957.6 533.0,943.7 C532.6,929.8 533.9,917.6 536.2,902.0 C538.5,886.4 542.3,862.0 546.7,850.0 C551.1,838.0 557.0,837.5 562.5,830.0 C568.0,822.5 574.6,812.5 580.0,805.0 C585.4,797.5 590.4,791.2 595.0,785.0 C599.6,778.8 604.4,773.3 607.5,767.5 C610.6,761.7 613.0,755.4 613.8,750.0 C614.6,744.6 614.0,740.8 612.5,735.0 C611.0,729.2 608.3,722.5 605.0,715.0 C601.7,707.5 595.8,699.2 592.5,690.0 C589.2,680.8 586.1,670.8 585.0,660.0 C583.9,649.2 584.8,633.3 586.0,625.0 C587.2,616.7 589.3,614.6 592.5,610.0 C595.7,605.4 599.6,601.7 605.0,597.5 C610.4,593.3 617.5,588.8 625.0,585.0 C632.5,581.2 639.2,577.7 650.0,575.0 C660.8,572.3 675.7,569.8 690.0,569.0 C704.3,568.2 727.1,566.3 736.0,570.0Z" fill="none" stroke="#3e1810" stroke-width="6" stroke-opacity="0.07"/><path d="M736.0,570.0 C744.9,573.7 741.0,584.9 743.5,591.0 C746.0,597.1 747.5,601.4 751.0,606.6 C754.5,611.8 759.1,618.1 764.3,622.0 C769.5,625.9 776.1,628.9 782.0,630.0 C787.9,631.1 794.2,630.1 799.8,628.8 C805.4,627.5 809.9,624.0 815.4,622.0 C820.9,620.0 827.5,617.1 833.0,616.6 C838.5,616.1 844.5,616.2 848.7,618.8 C852.9,621.4 856.3,626.6 858.0,632.0 C859.7,637.4 860.0,641.3 859.0,651.0 C858.0,660.7 853.8,678.9 852.0,690.0 C850.2,701.1 848.6,708.8 848.3,717.5 C848.0,726.2 848.5,735.1 850.0,742.0 C851.5,748.9 852.0,748.7 857.5,759.0 C863.0,769.3 873.4,789.4 883.0,803.8 C892.6,818.2 906.5,832.0 915.0,845.3 C923.5,858.6 929.5,869.2 934.0,883.6 C938.5,898.0 941.0,918.8 942.0,931.5 C943.0,944.2 942.9,948.2 940.2,960.0 C937.5,971.8 934.5,987.9 926.0,1002.5 C917.5,1017.1 901.5,1036.5 889.3,1047.8 C877.0,1059.1 869.5,1063.7 852.5,1070.4 C835.5,1077.1 807.8,1084.9 787.3,1088.0 C766.8,1091.1 743.5,1089.1 729.8,1089.0 C716.1,1088.9 716.4,1089.2 705.0,1087.5 C693.6,1085.8 673.8,1082.5 661.2,1079.0 C648.8,1075.5 640.4,1071.5 630.0,1066.7 C619.6,1061.9 608.1,1055.6 598.8,1050.0 C589.4,1044.4 581.4,1039.5 573.8,1033.3 C566.1,1027.0 558.9,1020.5 553.0,1012.5 C547.1,1004.5 541.6,996.9 538.3,985.4 C535.0,973.9 533.4,957.6 533.0,943.7 C532.6,929.8 533.9,917.6 536.2,902.0 C538.5,886.4 542.3,862.0 546.7,850.0 C551.1,838.0 557.0,837.5 562.5,830.0 C568.0,822.5 574.6,812.5 580.0,805.0 C585.4,797.5 590.4,791.2 595.0,785.0 C599.6,778.8 604.4,773.3 607.5,767.5 C610.6,761.7 613.0,755.4 613.8,750.0 C614.6,744.6 614.0,740.8 612.5,735.0 C611.0,729.2 608.3,722.5 605.0,715.0 C601.7,707.5 595.8,699.2 592.5,690.0 C589.2,680.8 586.1,670.8 585.0,660.0 C583.9,649.2 584.8,633.3 586.0,625.0 C587.2,616.7 589.3,614.6 592.5,610.0 C595.7,605.4 599.6,601.7 605.0,597.5 C610.4,593.3 617.5,588.8 625.0,585.0 C632.5,581.2 639.2,577.7 650.0,575.0 C660.8,572.3 675.7,569.8 690.0,569.0 C704.3,568.2 727.1,566.3 736.0,570.0Z" fill="none" stroke="#3e1810" stroke-width="12" stroke-opacity="0.07"/><path d="M736.0,570.0 C744.9,573.7 741.0,584.9 743.5,591.0 C746.0,597.1 747.5,601.4 751.0,606.6 C754.5,611.8 759.1,618.1 764.3,622.0 C769.5,625.9 776.1,628.9 782.0,630.0 C787.9,631.1 794.2,630.1 799.8,628.8 C805.4,627.5 809.9,624.0 815.4,622.0 C820.9,620.0 827.5,617.1 833.0,616.6 C838.5,616.1 844.5,616.2 848.7,618.8 C852.9,621.4 856.3,626.6 858.0,632.0 C859.7,637.4 860.0,641.3 859.0,651.0 C858.0,660.7 853.8,678.9 852.0,690.0 C850.2,701.1 848.6,708.8 848.3,717.5 C848.0,726.2 848.5,735.1 850.0,742.0 C851.5,748.9 852.0,748.7 857.5,759.0 C863.0,769.3 873.4,789.4 883.0,803.8 C892.6,818.2 906.5,832.0 915.0,845.3 C923.5,858.6 929.5,869.2 934.0,883.6 C938.5,898.0 941.0,918.8 942.0,931.5 C943.0,944.2 942.9,948.2 940.2,960.0 C937.5,971.8 934.5,987.9 926.0,1002.5 C917.5,1017.1 901.5,1036.5 889.3,1047.8 C877.0,1059.1 869.5,1063.7 852.5,1070.4 C835.5,1077.1 807.8,1084.9 787.3,1088.0 C766.8,1091.1 743.5,1089.1 729.8,1089.0 C716.1,1088.9 716.4,1089.2 705.0,1087.5 C693.6,1085.8 673.8,1082.5 661.2,1079.0 C648.8,1075.5 640.4,1071.5 630.0,1066.7 C619.6,1061.9 608.1,1055.6 598.8,1050.0 C589.4,1044.4 581.4,1039.5 573.8,1033.3 C566.1,1027.0 558.9,1020.5 553.0,1012.5 C547.1,1004.5 541.6,996.9 538.3,985.4 C535.0,973.9 533.4,957.6 533.0,943.7 C532.6,929.8 533.9,917.6 536.2,902.0 C538.5,886.4 542.3,862.0 546.7,850.0 C551.1,838.0 557.0,837.5 562.5,830.0 C568.0,822.5 574.6,812.5 580.0,805.0 C585.4,797.5 590.4,791.2 595.0,785.0 C599.6,778.8 604.4,773.3 607.5,767.5 C610.6,761.7 613.0,755.4 613.8,750.0 C614.6,744.6 614.0,740.8 612.5,735.0 C611.0,729.2 608.3,722.5 605.0,715.0 C601.7,707.5 595.8,699.2 592.5,690.0 C589.2,680.8 586.1,670.8 585.0,660.0 C583.9,649.2 584.8,633.3 586.0,625.0 C587.2,616.7 589.3,614.6 592.5,610.0 C595.7,605.4 599.6,601.7 605.0,597.5 C610.4,593.3 617.5,588.8 625.0,585.0 C632.5,581.2 639.2,577.7 650.0,575.0 C660.8,572.3 675.7,569.8 690.0,569.0 C704.3,568.2 727.1,566.3 736.0,570.0Z" fill="none" stroke="#3e1810" stroke-width="20" stroke-opacity="0.07"/><path d="M736.0,570.0 C744.9,573.7 741.0,584.9 743.5,591.0 C746.0,597.1 747.5,601.4 751.0,606.6 C754.5,611.8 759.1,618.1 764.3,622.0 C769.5,625.9 776.1,628.9 782.0,630.0 C787.9,631.1 794.2,630.1 799.8,628.8 C805.4,627.5 809.9,624.0 815.4,622.0 C820.9,620.0 827.5,617.1 833.0,616.6 C838.5,616.1 844.5,616.2 848.7,618.8 C852.9,621.4 856.3,626.6 858.0,632.0 C859.7,637.4 860.0,641.3 859.0,651.0 C858.0,660.7 853.8,678.9 852.0,690.0 C850.2,701.1 848.6,708.8 848.3,717.5 C848.0,726.2 848.5,735.1 850.0,742.0 C851.5,748.9 852.0,748.7 857.5,759.0 C863.0,769.3 873.4,789.4 883.0,803.8 C892.6,818.2 906.5,832.0 915.0,845.3 C923.5,858.6 929.5,869.2 934.0,883.6 C938.5,898.0 941.0,918.8 942.0,931.5 C943.0,944.2 942.9,948.2 940.2,960.0 C937.5,971.8 934.5,987.9 926.0,1002.5 C917.5,1017.1 901.5,1036.5 889.3,1047.8 C877.0,1059.1 869.5,1063.7 852.5,1070.4 C835.5,1077.1 807.8,1084.9 787.3,1088.0 C766.8,1091.1 743.5,1089.1 729.8,1089.0 C716.1,1088.9 716.4,1089.2 705.0,1087.5 C693.6,1085.8 673.8,1082.5 661.2,1079.0 C648.8,1075.5 640.4,1071.5 630.0,1066.7 C619.6,1061.9 608.1,1055.6 598.8,1050.0 C589.4,1044.4 581.4,1039.5 573.8,1033.3 C566.1,1027.0 558.9,1020.5 553.0,1012.5 C547.1,1004.5 541.6,996.9 538.3,985.4 C535.0,973.9 533.4,957.6 533.0,943.7 C532.6,929.8 533.9,917.6 536.2,902.0 C538.5,886.4 542.3,862.0 546.7,850.0 C551.1,838.0 557.0,837.5 562.5,830.0 C568.0,822.5 574.6,812.5 580.0,805.0 C585.4,797.5 590.4,791.2 595.0,785.0 C599.6,778.8 604.4,773.3 607.5,767.5 C610.6,761.7 613.0,755.4 613.8,750.0 C614.6,744.6 614.0,740.8 612.5,735.0 C611.0,729.2 608.3,722.5 605.0,715.0 C601.7,707.5 595.8,699.2 592.5,690.0 C589.2,680.8 586.1,670.8 585.0,660.0 C583.9,649.2 584.8,633.3 586.0,625.0 C587.2,616.7 589.3,614.6 592.5,610.0 C595.7,605.4 599.6,601.7 605.0,597.5 C610.4,593.3 617.5,588.8 625.0,585.0 C632.5,581.2 639.2,577.7 650.0,575.0 C660.8,572.3 675.7,569.8 690.0,569.0 C704.3,568.2 727.1,566.3 736.0,570.0Z" fill="none" stroke="#3e1810" stroke-width="30" stroke-opacity="0.07"/><path d="M736.0,570.0 C744.9,573.7 741.0,584.9 743.5,591.0 C746.0,597.1 747.5,601.4 751.0,606.6 C754.5,611.8 759.1,618.1 764.3,622.0 C769.5,625.9 776.1,628.9 782.0,630.0 C787.9,631.1 794.2,630.1 799.8,628.8 C805.4,627.5 809.9,624.0 815.4,622.0 C820.9,620.0 827.5,617.1 833.0,616.6 C838.5,616.1 844.5,616.2 848.7,618.8 C852.9,621.4 856.3,626.6 858.0,632.0 C859.7,637.4 860.0,641.3 859.0,651.0 C858.0,660.7 853.8,678.9 852.0,690.0 C850.2,701.1 848.6,708.8 848.3,717.5 C848.0,726.2 848.5,735.1 850.0,742.0 C851.5,748.9 852.0,748.7 857.5,759.0 C863.0,769.3 873.4,789.4 883.0,803.8 C892.6,818.2 906.5,832.0 915.0,845.3 C923.5,858.6 929.5,869.2 934.0,883.6 C938.5,898.0 941.0,918.8 942.0,931.5 C943.0,944.2 942.9,948.2 940.2,960.0 C937.5,971.8 934.5,987.9 926.0,1002.5 C917.5,1017.1 901.5,1036.5 889.3,1047.8 C877.0,1059.1 869.5,1063.7 852.5,1070.4 C835.5,1077.1 807.8,1084.9 787.3,1088.0 C766.8,1091.1 743.5,1089.1 729.8,1089.0 C716.1,1088.9 716.4,1089.2 705.0,1087.5 C693.6,1085.8 673.8,1082.5 661.2,1079.0 C648.8,1075.5 640.4,1071.5 630.0,1066.7 C619.6,1061.9 608.1,1055.6 598.8,1050.0 C589.4,1044.4 581.4,1039.5 573.8,1033.3 C566.1,1027.0 558.9,1020.5 553.0,1012.5 C547.1,1004.5 541.6,996.9 538.3,985.4 C535.0,973.9 533.4,957.6 533.0,943.7 C532.6,929.8 533.9,917.6 536.2,902.0 C538.5,886.4 542.3,862.0 546.7,850.0 C551.1,838.0 557.0,837.5 562.5,830.0 C568.0,822.5 574.6,812.5 580.0,805.0 C585.4,797.5 590.4,791.2 595.0,785.0 C599.6,778.8 604.4,773.3 607.5,767.5 C610.6,761.7 613.0,755.4 613.8,750.0 C614.6,744.6 614.0,740.8 612.5,735.0 C611.0,729.2 608.3,722.5 605.0,715.0 C601.7,707.5 595.8,699.2 592.5,690.0 C589.2,680.8 586.1,670.8 585.0,660.0 C583.9,649.2 584.8,633.3 586.0,625.0 C587.2,616.7 589.3,614.6 592.5,610.0 C595.7,605.4 599.6,601.7 605.0,597.5 C610.4,593.3 617.5,588.8 625.0,585.0 C632.5,581.2 639.2,577.7 650.0,575.0 C660.8,572.3 675.7,569.8 690.0,569.0 C704.3,568.2 727.1,566.3 736.0,570.0Z" fill="none" stroke="#3e1810" stroke-width="42" stroke-opacity="0.07"/><path d="M736.0,570.0 C744.9,573.7 741.0,584.9 743.5,591.0 C746.0,597.1 747.5,601.4 751.0,606.6 C754.5,611.8 759.1,618.1 764.3,622.0 C769.5,625.9 776.1,628.9 782.0,630.0 C787.9,631.1 794.2,630.1 799.8,628.8 C805.4,627.5 809.9,624.0 815.4,622.0 C820.9,620.0 827.5,617.1 833.0,616.6 C838.5,616.1 844.5,616.2 848.7,618.8 C852.9,621.4 856.3,626.6 858.0,632.0 C859.7,637.4 860.0,641.3 859.0,651.0 C858.0,660.7 853.8,678.9 852.0,690.0 C850.2,701.1 848.6,708.8 848.3,717.5 C848.0,726.2 848.5,735.1 850.0,742.0 C851.5,748.9 852.0,748.7 857.5,759.0 C863.0,769.3 873.4,789.4 883.0,803.8 C892.6,818.2 906.5,832.0 915.0,845.3 C923.5,858.6 929.5,869.2 934.0,883.6 C938.5,898.0 941.0,918.8 942.0,931.5 C943.0,944.2 942.9,948.2 940.2,960.0 C937.5,971.8 934.5,987.9 926.0,1002.5 C917.5,1017.1 901.5,1036.5 889.3,1047.8 C877.0,1059.1 869.5,1063.7 852.5,1070.4 C835.5,1077.1 807.8,1084.9 787.3,1088.0 C766.8,1091.1 743.5,1089.1 729.8,1089.0 C716.1,1088.9 716.4,1089.2 705.0,1087.5 C693.6,1085.8 673.8,1082.5 661.2,1079.0 C648.8,1075.5 640.4,1071.5 630.0,1066.7 C619.6,1061.9 608.1,1055.6 598.8,1050.0 C589.4,1044.4 581.4,1039.5 573.8,1033.3 C566.1,1027.0 558.9,1020.5 553.0,1012.5 C547.1,1004.5 541.6,996.9 538.3,985.4 C535.0,973.9 533.4,957.6 533.0,943.7 C532.6,929.8 533.9,917.6 536.2,902.0 C538.5,886.4 542.3,862.0 546.7,850.0 C551.1,838.0 557.0,837.5 562.5,830.0 C568.0,822.5 574.6,812.5 580.0,805.0 C585.4,797.5 590.4,791.2 595.0,785.0 C599.6,778.8 604.4,773.3 607.5,767.5 C610.6,761.7 613.0,755.4 613.8,750.0 C614.6,744.6 614.0,740.8 612.5,735.0 C611.0,729.2 608.3,722.5 605.0,715.0 C601.7,707.5 595.8,699.2 592.5,690.0 C589.2,680.8 586.1,670.8 585.0,660.0 C583.9,649.2 584.8,633.3 586.0,625.0 C587.2,616.7 589.3,614.6 592.5,610.0 C595.7,605.4 599.6,601.7 605.0,597.5 C610.4,593.3 617.5,588.8 625.0,585.0 C632.5,581.2 639.2,577.7 650.0,575.0 C660.8,572.3 675.7,569.8 690.0,569.0 C704.3,568.2 727.1,566.3 736.0,570.0Z" fill="none" stroke="#3e1810" stroke-width="56" stroke-opacity="0.07"/></g>
<path d="M736.0,570.0 C737.2,573.5 741.0,584.9 743.5,591.0 C746.0,597.1 747.5,601.4 751.0,606.6 C754.5,611.8 759.1,618.1 764.3,622.0 C769.5,625.9 776.1,628.9 782.0,630.0 C787.9,631.1 794.2,630.1 799.8,628.8 C805.4,627.5 809.9,624.0 815.4,622.0 C820.9,620.0 827.5,617.1 833.0,616.6 C838.5,616.1 844.5,616.2 848.7,618.8 C852.9,621.4 856.3,626.6 858.0,632.0 C859.7,637.4 860.0,641.3 859.0,651.0 C858.0,660.7 853.8,678.9 852.0,690.0 C850.2,701.1 848.6,708.8 848.3,717.5 C848.0,726.2 848.5,735.1 850.0,742.0 C851.5,748.9 852.0,748.7 857.5,759.0 C863.0,769.3 873.4,789.4 883.0,803.8 C892.6,818.2 906.5,832.0 915.0,845.3 C923.5,858.6 929.5,869.2 934.0,883.6 C938.5,898.0 941.0,918.8 942.0,931.5 C943.0,944.2 942.9,948.2 940.2,960.0 C937.5,971.8 934.5,987.9 926.0,1002.5 C917.5,1017.1 901.5,1036.5 889.3,1047.8 C877.0,1059.1 869.5,1063.7 852.5,1070.4 C835.5,1077.1 806.0,1084.4 787.3,1088.0 C768.5,1091.6 747.9,1091.3 740.0,1092.0" fill="none" stroke="#3a1810" stroke-width="1.5"/>
<path d="M728,1090 L746,1090 L743,1098 L731,1098 Z" fill="#c8a878" stroke="#3a2a20" stroke-width="1"/>
<path d="M770.0,666.0 C771.7,660.7 784.0,666.7 790.0,668.0 C796.0,669.3 801.0,671.3 806.0,674.0 C811.0,676.7 816.0,680.3 820.0,684.0 C824.0,687.7 827.5,691.7 830.0,696.0 C832.5,700.3 834.2,704.3 835.0,710.0 C835.8,715.7 834.8,724.0 835.0,730.0 C835.2,736.0 834.5,740.3 836.0,746.0 C837.5,751.7 841.0,757.7 844.0,764.0 C847.0,770.3 851.0,777.0 854.0,784.0 C857.0,791.0 860.3,798.3 862.0,806.0 C863.7,813.7 864.3,823.3 864.0,830.0 C863.7,836.7 861.6,840.8 860.0,846.0 C858.4,851.2 857.8,859.8 854.5,861.0 C851.2,862.2 845.8,855.2 840.0,853.0 C834.2,850.8 827.3,849.8 820.0,848.0 C812.7,846.2 802.7,844.7 796.0,842.0 C789.3,839.3 784.3,836.3 780.0,832.0 C775.7,827.7 772.0,822.7 770.0,816.0 C768.0,809.3 768.3,799.7 768.0,792.0 C767.7,784.3 766.8,778.7 768.0,770.0 C769.2,761.3 773.0,751.7 775.0,740.0 C777.0,728.3 780.8,712.3 780.0,700.0 C779.2,687.7 768.3,671.3 770.0,666.0Z" fill="#3c1520" stroke="#b88a78" stroke-width="0.8" stroke-opacity="0.6"/>
<circle cx="728.5" cy="721" r="67" fill="#7a5a40"/>
<circle cx="728.5" cy="721" r="66" fill="none" stroke="#b89a78" stroke-width="1.2"/>
<circle cx="728.5" cy="721" r="63.5" fill="none" stroke="#d8c09a" stroke-width="0.9"/>
<circle cx="728.5" cy="721" r="61" fill="none" stroke="#a08060" stroke-width="1.2"/>
<circle cx="728.5" cy="721" r="58.5" fill="none" stroke="#d0b890" stroke-width="0.9"/>
<circle cx="728.5" cy="721" r="56" fill="none" stroke="#8a6a50" stroke-width="1.2"/>
<circle cx="728.5" cy="721" r="53.5" fill="none" stroke="#c0a080" stroke-width="0.9"/>
<circle cx="728.5" cy="721" r="51" fill="#1a080a"/>
<path d="M675.5,275 L713,275 L743,590 L751,672 L694,672 L690,590 Z" fill="url(#gBoard)"/>
<path d="M688,553 C688.5,560 690,566 691,571 L681,571 C685,567 687,561 688,553 Z" fill="#d8b088"/>
<line x1="677.1" y1="309" x2="716.2" y2="309" stroke="#b8a080" stroke-width="1.6"/>
<line x1="678.4" y1="339" x2="719.1" y2="339" stroke="#b8a080" stroke-width="1.6"/>
<line x1="679.7" y1="365.7" x2="721.6" y2="365.7" stroke="#b8a080" stroke-width="1.6"/>
<line x1="681.0" y1="394.5" x2="724.4" y2="394.5" stroke="#b8a080" stroke-width="1.6"/>
<line x1="682.2" y1="420.6" x2="726.9" y2="420.6" stroke="#b8a080" stroke-width="1.6"/>
<line x1="683.4" y1="446.4" x2="729.3" y2="446.4" stroke="#b8a080" stroke-width="1.6"/>
<line x1="684.4" y1="468.5" x2="731.4" y2="468.5" stroke="#b8a080" stroke-width="1.6"/>
<line x1="685.4" y1="491" x2="733.6" y2="491" stroke="#b8a080" stroke-width="1.6"/>
<line x1="686.4" y1="511.6" x2="735.5" y2="511.6" stroke="#b8a080" stroke-width="1.6"/>
<line x1="687.3" y1="530.3" x2="737.3" y2="530.3" stroke="#b8a080" stroke-width="1.6"/>
<line x1="688.0" y1="547.6" x2="739.0" y2="547.6" stroke="#b8a080" stroke-width="1.6"/>
<line x1="688.9" y1="566.2" x2="740.7" y2="566.2" stroke="#b8a080" stroke-width="1.6"/>
<line x1="689.7" y1="583.5" x2="742.4" y2="583.5" stroke="#b8a080" stroke-width="1.6"/>
<line x1="690.4" y1="599" x2="743.9" y2="599" stroke="#b8a080" stroke-width="1.6"/>
<line x1="691.1" y1="612.5" x2="745.2" y2="612.5" stroke="#b8a080" stroke-width="1.6"/>
<line x1="691.7" y1="625.3" x2="746.4" y2="625.3" stroke="#b8a080" stroke-width="1.6"/>
<line x1="692.3" y1="637.5" x2="747.6" y2="637.5" stroke="#b8a080" stroke-width="1.6"/>
<line x1="692.8" y1="648.3" x2="748.7" y2="648.3" stroke="#b8a080" stroke-width="1.6"/>
<line x1="693.4" y1="659.7" x2="749.8" y2="659.7" stroke="#b8a080" stroke-width="1.6"/>
<circle cx="701.2" cy="354" r="2.6" fill="#f5f0ea"/>
<circle cx="703.9" cy="407" r="2.6" fill="#f5f0ea"/>
<circle cx="707.9" cy="457" r="2.6" fill="#f5f0ea"/>
<circle cx="711" cy="499" r="2.6" fill="#f5f0ea"/>
<circle cx="705.7" cy="557.7" r="2.6" fill="#f5f0ea"/>
<circle cx="725.7" cy="557.7" r="2.6" fill="#f5f0ea"/>
<circle cx="718.8" cy="605.5" r="2.6" fill="#f5f0ea"/>
<circle cx="721" cy="632" r="2.6" fill="#f5f0ea"/>
<path d="M654,861.5 C670,861 690,861 700,860 C740,858 790,857 817.6,856 L821,889 C800,889.5 790,891 775,896 C760,899 730,900 705,898 C695,896 690,895 654,895.5 Z" fill="url(#gBridge)"/>
<line x1="710.7" y1="866" x2="774.5" y2="861.3" stroke="#efe0b0" stroke-width="2.5"/>
<path d="M648.0,153.0 C650.9,151.0 658.7,155.4 664.0,155.0 C669.3,154.6 674.5,150.6 680.0,150.5 C685.5,150.4 691.1,153.3 697.0,154.5 C702.9,155.7 712.2,155.2 715.5,157.5 C718.8,159.8 716.4,162.6 716.5,168.0 C716.6,173.4 715.8,182.2 716.0,190.0 C716.2,197.8 717.2,207.0 718.0,215.0 C718.8,223.0 719.7,231.8 720.5,238.0 C721.3,244.2 723.6,247.5 723.0,252.0 C722.4,256.5 719.0,261.2 717.0,265.0 C715.0,268.8 717.9,273.3 711.0,275.0 C704.1,276.7 682.8,278.0 675.5,275.0 C668.2,272.0 669.8,265.0 667.0,257.0 C664.2,249.0 661.5,237.3 659.0,227.0 C656.5,216.7 654.1,205.0 652.0,195.0 C649.9,185.0 647.2,174.0 646.5,167.0 C645.8,160.0 645.1,155.0 648.0,153.0Z" fill="url(#gHead)"/>
<rect x="674" y="272" width="39" height="5" fill="#e9d8b0"/>
<rect x="635.8" y="188.1" width="15" height="17" rx="6" fill="#5e2616"/>
<ellipse cx="642.3" cy="193.6" rx="4" ry="3" fill="#8a4a34" opacity="0.7"/>
<rect x="634.1" y="213.1" width="15" height="17" rx="6" fill="#5e2616"/>
<ellipse cx="640.6" cy="218.6" rx="4" ry="3" fill="#8a4a34" opacity="0.7"/>
<rect x="634.1" y="236.5" width="15" height="17" rx="6" fill="#5e2616"/>
<ellipse cx="640.6" cy="242" rx="4" ry="3" fill="#8a4a34" opacity="0.7"/>
<rect x="716.5" y="191.5" width="15" height="17" rx="6" fill="#5e2616"/>
<ellipse cx="723" cy="197" rx="4" ry="3" fill="#8a4a34" opacity="0.7"/>
<rect x="717.5" y="215.5" width="15" height="17" rx="6" fill="#5e2616"/>
<ellipse cx="724" cy="221" rx="4" ry="3" fill="#8a4a34" opacity="0.7"/>
<rect x="722.5" y="241.5" width="15" height="17" rx="6" fill="#5e2616"/>
<ellipse cx="729" cy="247" rx="4" ry="3" fill="#8a4a34" opacity="0.7"/>
<line x1="643.3" y1="196.6" x2="654" y2="196.6" stroke="#777" stroke-width="3"/>
<line x1="641.6" y1="221.6" x2="652" y2="221.6" stroke="#777" stroke-width="3"/>
<line x1="641.6" y1="245" x2="652" y2="245" stroke="#777" stroke-width="3"/>
<line x1="724" y1="200" x2="714" y2="200" stroke="#777" stroke-width="3"/>
<line x1="725" y1="224" x2="715" y2="224" stroke="#777" stroke-width="3"/>
<line x1="730" y1="250" x2="720" y2="250" stroke="#777" stroke-width="3"/>
<circle cx="669" cy="190" r="5" fill="#9a948c"/>
<circle cx="668" cy="188.5" r="2.8" fill="#f0ece6"/>
<circle cx="671.6" cy="213" r="5" fill="#9a948c"/>
<circle cx="670.6" cy="211.5" r="2.8" fill="#f0ece6"/>
<circle cx="673" cy="236.6" r="5" fill="#9a948c"/>
<circle cx="672" cy="235.1" r="2.8" fill="#f0ece6"/>
<circle cx="703" cy="189" r="5" fill="#9a948c"/>
<circle cx="702" cy="187.5" r="2.8" fill="#f0ece6"/>
<circle cx="706.6" cy="215" r="5" fill="#9a948c"/>
<circle cx="705.6" cy="213.5" r="2.8" fill="#f0ece6"/>
<circle cx="710" cy="240" r="5" fill="#9a948c"/>
<circle cx="709" cy="238.5" r="2.8" fill="#f0ece6"/>
<line x1="680" y1="275" x2="709" y2="876" stroke="#dcc49c" stroke-width="1" stroke-opacity="0.8"/>
<line x1="685.8" y1="275" x2="720" y2="876" stroke="#dcc49c" stroke-width="1" stroke-opacity="0.8"/>
<line x1="692.5" y1="275" x2="731" y2="876" stroke="#dcc49c" stroke-width="1" stroke-opacity="0.8"/>
<line x1="699.2" y1="275" x2="742" y2="876" stroke="#dcc49c" stroke-width="1" stroke-opacity="0.8"/>
<line x1="704.2" y1="275" x2="753" y2="876" stroke="#dcc49c" stroke-width="1" stroke-opacity="0.8"/>
<line x1="709.2" y1="275" x2="764" y2="876" stroke="#dcc49c" stroke-width="1" stroke-opacity="0.8"/>
<line x1="672" y1="190" x2="680" y2="275" stroke="#e8c8a0" stroke-width="1"/>
<line x1="674.6" y1="213" x2="685.8" y2="275" stroke="#e8c8a0" stroke-width="1"/>
<line x1="676" y1="236.6" x2="692.5" y2="275" stroke="#e8c8a0" stroke-width="1"/>
<line x1="700" y1="189" x2="699.2" y2="275" stroke="#e8c8a0" stroke-width="1"/>
<line x1="703.6" y1="215" x2="704.2" y2="275" stroke="#e8c8a0" stroke-width="1"/>
<line x1="707" y1="240" x2="709.2" y2="275" stroke="#e8c8a0" stroke-width="1"/>
<line x1="1181" y1="238.5" x2="1288" y2="357" stroke="#3a3a3a" stroke-width="3.5" stroke-linecap="round"/>
<line x1="1181" y1="238.5" x2="1288" y2="357" stroke="#9a9a9a" stroke-width="1" />
<ellipse cx="1283" cy="350" rx="3.5" ry="5" transform="rotate(-42 1283 350)" fill="#2a2a2a"/>
<path d="M1286,355 L1294,363 L1290,366 L1282,358 Z" fill="#444"/>
<path d="M1114.5,712.0 C1116.0,708.1 1118.2,706.8 1125.0,706.5 C1131.8,706.2 1144.2,709.5 1155.0,710.4 C1165.8,711.3 1179.0,715.7 1190.0,712.0 C1201.0,708.3 1212.3,692.2 1221.0,688.0 C1229.7,683.8 1235.5,685.2 1242.0,686.5 C1248.5,687.8 1256.3,691.2 1260.0,695.5 C1263.7,699.8 1264.4,704.8 1264.4,712.0 C1264.4,719.2 1262.5,730.0 1260.0,739.0 C1257.5,748.0 1250.9,757.5 1249.4,766.0 C1247.9,774.5 1247.2,780.0 1251.0,790.0 C1254.8,800.0 1265.5,813.0 1272.0,826.0 C1278.5,839.0 1286.8,855.5 1290.0,868.0 C1293.2,880.5 1292.5,890.0 1291.0,901.0 C1289.5,912.0 1286.2,925.0 1281.0,934.0 C1275.8,943.0 1271.0,949.5 1260.0,955.0 C1249.0,960.5 1229.0,964.5 1215.0,966.7 C1201.0,968.9 1191.0,969.5 1176.0,968.0 C1161.0,966.5 1138.5,963.9 1125.0,957.7 C1111.5,951.5 1101.5,941.3 1095.0,930.8 C1088.5,920.3 1086.5,907.3 1086.0,894.8 C1085.5,882.3 1088.0,868.3 1092.0,855.8 C1096.0,843.3 1105.0,831.0 1110.0,820.0 C1115.0,809.0 1119.5,800.0 1122.0,790.0 C1124.5,780.0 1126.0,770.0 1125.0,760.0 C1124.0,750.0 1117.8,738.0 1116.0,730.0 C1114.2,722.0 1113.0,715.9 1114.5,712.0Z" fill="#8a5a38" stroke="#5a3420" stroke-width="1.2"/>
<path d="M1114.5,712.0 C1116.0,708.1 1118.2,706.8 1125.0,706.5 C1131.8,706.2 1144.2,709.5 1155.0,710.4 C1165.8,711.3 1179.0,715.7 1190.0,712.0 C1201.0,708.3 1212.3,692.2 1221.0,688.0 C1229.7,683.8 1235.5,685.2 1242.0,686.5 C1248.5,687.8 1256.3,691.2 1260.0,695.5 C1263.7,699.8 1264.4,704.8 1264.4,712.0 C1264.4,719.2 1262.5,730.0 1260.0,739.0 C1257.5,748.0 1250.9,757.5 1249.4,766.0 C1247.9,774.5 1247.2,780.0 1251.0,790.0 C1254.8,800.0 1265.5,813.0 1272.0,826.0 C1278.5,839.0 1286.8,855.5 1290.0,868.0 C1293.2,880.5 1292.5,890.0 1291.0,901.0 C1289.5,912.0 1286.2,925.0 1281.0,934.0 C1275.8,943.0 1271.0,949.5 1260.0,955.0 C1249.0,960.5 1229.0,964.5 1215.0,966.7 C1201.0,968.9 1191.0,969.5 1176.0,968.0 C1161.0,966.5 1138.5,963.9 1125.0,957.7 C1111.5,951.5 1101.5,941.3 1095.0,930.8 C1088.5,920.3 1086.5,907.3 1086.0,894.8 C1085.5,882.3 1088.0,868.3 1092.0,855.8 C1096.0,843.3 1105.0,831.0 1110.0,820.0 C1115.0,809.0 1119.5,800.0 1122.0,790.0 C1124.5,780.0 1126.0,770.0 1125.0,760.0 C1124.0,750.0 1117.8,738.0 1116.0,730.0 C1114.2,722.0 1113.0,715.9 1114.5,712.0Z" fill="none" stroke="#b07a50" stroke-width="2.5" stroke-dasharray="3,2,1,2" transform="translate(0.5 0.5)"/>
<clipPath id="bclip"><path d="M1119.7,719.7 C1121.1,716.0 1123.2,714.8 1129.5,714.5 C1135.8,714.3 1147.3,717.3 1157.4,718.2 C1167.5,719.0 1179.7,723.2 1189.9,719.7 C1200.2,716.2 1210.7,701.2 1218.8,697.2 C1226.8,693.3 1232.2,694.7 1238.3,695.8 C1244.3,697.0 1251.6,700.3 1255.0,704.2 C1258.5,708.2 1259.1,712.9 1259.1,719.7 C1259.1,726.4 1257.4,736.5 1255.0,744.9 C1252.7,753.3 1246.6,762.2 1245.2,770.2 C1243.8,778.1 1243.2,783.2 1246.7,792.6 C1250.2,802.0 1260.1,814.1 1266.2,826.3 C1272.2,838.4 1280.0,853.8 1282.9,865.5 C1285.9,877.2 1285.3,886.1 1283.9,896.4 C1282.5,906.7 1279.4,918.8 1274.6,927.2 C1269.8,935.7 1265.3,941.8 1255.0,946.9 C1244.8,952.0 1226.2,955.8 1213.2,957.8 C1200.2,959.8 1190.9,960.4 1176.9,959.0 C1163.0,957.6 1142.0,955.2 1129.5,949.4 C1116.9,943.6 1107.6,934.0 1101.6,924.2 C1095.5,914.4 1093.7,902.3 1093.2,890.6 C1092.7,878.9 1095.1,865.8 1098.8,854.1 C1102.5,842.5 1110.9,830.9 1115.5,820.6 C1120.2,810.4 1124.4,802.0 1126.7,792.6 C1129.0,783.2 1130.4,773.9 1129.5,764.5 C1128.5,755.2 1122.7,744.0 1121.1,736.5 C1119.5,729.0 1118.3,723.3 1119.7,719.7Z"/></clipPath>
<path d="M1119.7,719.7 C1121.1,716.0 1123.2,714.8 1129.5,714.5 C1135.8,714.3 1147.3,717.3 1157.4,718.2 C1167.5,719.0 1179.7,723.2 1189.9,719.7 C1200.2,716.2 1210.7,701.2 1218.8,697.2 C1226.8,693.3 1232.2,694.7 1238.3,695.8 C1244.3,697.0 1251.6,700.3 1255.0,704.2 C1258.5,708.2 1259.1,712.9 1259.1,719.7 C1259.1,726.4 1257.4,736.5 1255.0,744.9 C1252.7,753.3 1246.6,762.2 1245.2,770.2 C1243.8,778.1 1243.2,783.2 1246.7,792.6 C1250.2,802.0 1260.1,814.1 1266.2,826.3 C1272.2,838.4 1280.0,853.8 1282.9,865.5 C1285.9,877.2 1285.3,886.1 1283.9,896.4 C1282.5,906.7 1279.4,918.8 1274.6,927.2 C1269.8,935.7 1265.3,941.8 1255.0,946.9 C1244.8,952.0 1226.2,955.8 1213.2,957.8 C1200.2,959.8 1190.9,960.4 1176.9,959.0 C1163.0,957.6 1142.0,955.2 1129.5,949.4 C1116.9,943.6 1107.6,934.0 1101.6,924.2 C1095.5,914.4 1093.7,902.3 1093.2,890.6 C1092.7,878.9 1095.1,865.8 1098.8,854.1 C1102.5,842.5 1110.9,830.9 1115.5,820.6 C1120.2,810.4 1124.4,802.0 1126.7,792.6 C1129.0,783.2 1130.4,773.9 1129.5,764.5 C1128.5,755.2 1122.7,744.0 1121.1,736.5 C1119.5,729.0 1118.3,723.3 1119.7,719.7Z" fill="#6e5442" stroke="#d9b890" stroke-width="1"/>
<g clip-path="url(#bclip)">
<rect x="1080.0" y="680" width="4.4" height="300" fill="#654836" opacity="0.85"/>
<rect x="1084.4" y="680" width="3.8" height="300" fill="#654836" opacity="0.85"/>
<rect x="1088.2" y="680" width="5.8" height="300" fill="#654836" opacity="0.85"/>
<rect x="1094.1" y="680" width="3.4" height="300" fill="#6a4c38" opacity="0.85"/>
<rect x="1097.4" y="680" width="8.5" height="300" fill="#7e5e44" opacity="0.85"/>
<rect x="1105.9" y="680" width="4.6" height="300" fill="#76573f" opacity="0.85"/>
<rect x="1110.5" y="680" width="4.2" height="300" fill="#705238" opacity="0.85"/>
<rect x="1114.6" y="680" width="5.8" height="300" fill="#654836" opacity="0.85"/>
<rect x="1120.4" y="680" width="5.9" height="300" fill="#705238" opacity="0.85"/>
<rect x="1126.3" y="680" width="8.2" height="300" fill="#76573f" opacity="0.85"/>
<rect x="1134.5" y="680" width="6.8" height="300" fill="#654836" opacity="0.85"/>
<rect x="1141.3" y="680" width="5.3" height="300" fill="#6a4c38" opacity="0.85"/>
<rect x="1146.6" y="680" width="7.0" height="300" fill="#6a4c38" opacity="0.85"/>
<rect x="1153.6" y="680" width="4.0" height="300" fill="#654836" opacity="0.85"/>
<rect x="1157.6" y="680" width="3.3" height="300" fill="#6a4c38" opacity="0.85"/>
<rect x="1160.8" y="680" width="7.9" height="300" fill="#5c4232" opacity="0.85"/>
<rect x="1168.8" y="680" width="5.8" height="300" fill="#705238" opacity="0.85"/>
<rect x="1174.6" y="680" width="8.5" height="300" fill="#7e5e44" opacity="0.85"/>
<rect x="1183.1" y="680" width="7.3" height="300" fill="#7e5e44" opacity="0.85"/>
<rect x="1190.4" y="680" width="5.4" height="300" fill="#654836" opacity="0.85"/>
<rect x="1195.8" y="680" width="5.7" height="300" fill="#76573f" opacity="0.85"/>
<rect x="1201.5" y="680" width="8.3" height="300" fill="#6a4c38" opacity="0.85"/>
<rect x="1209.7" y="680" width="3.2" height="300" fill="#7e5e44" opacity="0.85"/>
<rect x="1213.0" y="680" width="4.3" height="300" fill="#705238" opacity="0.85"/>
<rect x="1217.3" y="680" width="5.6" height="300" fill="#705238" opacity="0.85"/>
<rect x="1222.9" y="680" width="8.1" height="300" fill="#7e5e44" opacity="0.85"/>
<rect x="1231.0" y="680" width="6.0" height="300" fill="#7e5e44" opacity="0.85"/>
<rect x="1237.0" y="680" width="6.4" height="300" fill="#654836" opacity="0.85"/>
<rect x="1243.5" y="680" width="6.5" height="300" fill="#654836" opacity="0.85"/>
<rect x="1250.0" y="680" width="4.4" height="300" fill="#5c4232" opacity="0.85"/>
<rect x="1254.4" y="680" width="7.1" height="300" fill="#6a4c38" opacity="0.85"/>
<rect x="1261.5" y="680" width="8.1" height="300" fill="#654836" opacity="0.85"/>
<rect x="1269.6" y="680" width="7.0" height="300" fill="#76573f" opacity="0.85"/>
<rect x="1276.7" y="680" width="7.2" height="300" fill="#5c4232" opacity="0.85"/>
<rect x="1283.8" y="680" width="8.8" height="300" fill="#654836" opacity="0.85"/>
<rect x="1292.6" y="680" width="6.4" height="300" fill="#705238" opacity="0.85"/>
<rect x="1299.0" y="680" width="6.9" height="300" fill="#705238" opacity="0.85"/>
<rect x="1190" y="680" width="80" height="42" fill="#e6d8bc" opacity="0.85"/>
</g>
<circle cx="1189.4" cy="758.4" r="26.2" fill="#F6D3D3"/>
<line x1="1117" y1="722.4" x2="1262" y2="722.4" stroke="#a08a66" stroke-width="7"/>
<line x1="1117" y1="722.4" x2="1262" y2="722.4" stroke="#ecdcb4" stroke-width="6"/>
<line x1="1130" y1="748" x2="1163" y2="748" stroke="#a08a66" stroke-width="4.5"/>
<line x1="1130" y1="748" x2="1163" y2="748" stroke="#ecdcb4" stroke-width="3.5"/>
<line x1="1215" y1="748" x2="1250" y2="748" stroke="#a08a66" stroke-width="4.5"/>
<line x1="1215" y1="748" x2="1250" y2="748" stroke="#ecdcb4" stroke-width="3.5"/>
<line x1="1125" y1="740.4" x2="1283.8" y2="903.8" stroke="#a08a66" stroke-width="5"/>
<line x1="1125" y1="740.4" x2="1283.8" y2="903.8" stroke="#ecdcb4" stroke-width="4"/>
<line x1="1252.4" y1="740.4" x2="1095" y2="903.8" stroke="#a08a66" stroke-width="5"/>
<line x1="1252.4" y1="740.4" x2="1095" y2="903.8" stroke="#ecdcb4" stroke-width="4"/>
<line x1="1132.5" y1="727" x2="1132.5" y2="951.7" stroke="#a08a66" stroke-width="4.5"/>
<line x1="1132.5" y1="727" x2="1132.5" y2="951.7" stroke="#ecdcb4" stroke-width="3.5"/>
<line x1="1246.4" y1="760" x2="1246.4" y2="850" stroke="#a08a66" stroke-width="4.5"/>
<line x1="1246.4" y1="760" x2="1246.4" y2="850" stroke="#ecdcb4" stroke-width="3.5"/>
<line x1="1122" y1="880" x2="1268.8" y2="939.8" stroke="#a08a66" stroke-width="5.5"/>
<line x1="1122" y1="880" x2="1268.8" y2="939.8" stroke="#ecdcb4" stroke-width="4.5"/>
<line x1="1140" y1="861.8" x2="1275" y2="924.8" stroke="#a08a66" stroke-width="5"/>
<line x1="1140" y1="861.8" x2="1275" y2="924.8" stroke="#ecdcb4" stroke-width="4"/>
<line x1="1134" y1="803" x2="1164" y2="832" stroke="#a08a66" stroke-width="4"/>
<line x1="1134" y1="803" x2="1164" y2="832" stroke="#ecdcb4" stroke-width="3"/>
<line x1="1218" y1="832" x2="1243" y2="802" stroke="#a08a66" stroke-width="4"/>
<line x1="1218" y1="832" x2="1243" y2="802" stroke="#ecdcb4" stroke-width="3"/>
<line x1="1152" y1="862" x2="1137" y2="886" stroke="#a08a66" stroke-width="4"/>
<line x1="1152" y1="862" x2="1137" y2="886" stroke="#ecdcb4" stroke-width="3"/>
<path d="M1146,833 L1230,830 L1237,860 L1146,861 Z" fill="#e9d7ae" stroke="#b8a07a" stroke-width="0.8"/>
<circle cx="1189" cy="806" r="2.5" fill="#8a5a3a"/>
<circle cx="1136" cy="887" r="2.5" fill="#8a5a3a"/>
<circle cx="1229" cy="905" r="2.5" fill="#8a5a3a"/>
<circle cx="1132" cy="792" r="2.5" fill="#8a5a3a"/>
<circle cx="1246" cy="791" r="2.5" fill="#8a5a3a"/>
<circle cx="1132" cy="907" r="2.5" fill="#8a5a3a"/>
<circle cx="1189" cy="721" r="2.5" fill="#8a5a3a"/>
<rect x="1176" y="673" width="27" height="45" fill="#b86a52"/>
<circle cx="1189.5" cy="689" r="4.5" fill="#e8a8a0"/>
<path d="M1178,718 C1182,706 1197,706 1201,718 Z" fill="#8a4a3a"/>
<circle cx="659.5" cy="231.5" r="32" fill="#EC7474" fill-opacity="0.45" stroke="#EC7474" stroke-width="1.5"/>
<circle cx="727" cy="720" r="36.7" fill="#EC7474" fill-opacity="0.5" stroke="#EC7474" stroke-width="2"/>
<circle cx="841.75" cy="973" r="46.6" fill="#EC7474" fill-opacity="0.5" stroke="#EC7474" stroke-width="2"/>
<circle cx="1189.4" cy="689.5" r="31.8" fill="#EC7474" fill-opacity="0.5" stroke="#EC7474" stroke-width="1.5"/>
<ellipse cx="708.7" cy="477.5" rx="8.7" ry="33.5" transform="rotate(-4 708.7 477.5)" fill="#EC7474" fill-opacity="0.4" stroke="#EC7474" stroke-width="1.5"/>
<ellipse cx="700" cy="309.5" rx="31" ry="3" fill="#EC7474" fill-opacity="0.4" stroke="#EC7474" stroke-width="1.2"/>
<ellipse cx="702" cy="339" rx="30" ry="3" fill="#EC7474" fill-opacity="0.4" stroke="#EC7474" stroke-width="1.2"/>
<ellipse cx="738.8" cy="877.9" rx="45.5" ry="8" transform="rotate(-3 738.8 877.9)" fill="#EC7474" fill-opacity="0.5" stroke="#EC7474" stroke-width="1.5"/>
<circle cx="709" cy="878.9" r="3.8" fill="#f5a8a8"/>
<circle cx="720" cy="878.2" r="3.8" fill="#f5a8a8"/>
<circle cx="731" cy="877.6" r="3.8" fill="#f5a8a8"/>
<circle cx="742" cy="876.9" r="3.8" fill="#f5a8a8"/>
<circle cx="753" cy="876.3" r="3.8" fill="#f5a8a8"/>
<circle cx="764" cy="875.6" r="3.8" fill="#f5a8a8"/>
<circle cx="697.7" cy="651" r="3.8" fill="#EC7474"/>
<circle cx="707.9" cy="651" r="3.8" fill="#EC7474"/>
<circle cx="718.1" cy="651" r="3.8" fill="#EC7474"/>
<circle cx="728.3" cy="651" r="3.8" fill="#EC7474"/>
<circle cx="738.5" cy="651" r="3.8" fill="#EC7474"/>
<circle cx="748.7" cy="651" r="3.8" fill="#EC7474"/>
<polyline points="309.4,209.3 684,170" fill="none" stroke="#EA7070" stroke-width="3" stroke-linecap="round" stroke-linejoin="round"/>
<polyline points="407,274 628,240" fill="none" stroke="#EA7070" stroke-width="3" stroke-linecap="round" stroke-linejoin="round"/>
<polyline points="569.8,330 617,328.5 669,309.5" fill="none" stroke="#EA7070" stroke-width="3" stroke-linecap="round" stroke-linejoin="round"/>
<polyline points="617,328.5 673,339" fill="none" stroke="#EA7070" stroke-width="3" stroke-linecap="round" stroke-linejoin="round"/>
<polyline points="451,388.7 681.8,381.2" fill="none" stroke="#EA7070" stroke-width="3" stroke-linecap="round" stroke-linejoin="round"/>
<polyline points="334.3,472.5 706,688" fill="none" stroke="#EA7070" stroke-width="3" stroke-linecap="round" stroke-linejoin="round"/>
<polyline points="548,515 697,651" fill="none" stroke="#EA7070" stroke-width="3" stroke-linecap="round" stroke-linejoin="round"/>
<polyline points="238,564.5 578.8,655" fill="none" stroke="#EA7070" stroke-width="3" stroke-linecap="round" stroke-linejoin="round"/>
<polyline points="431.6,663.5 673.75,693.25" fill="none" stroke="#EA7070" stroke-width="3" stroke-linecap="round" stroke-linejoin="round"/>
<polyline points="226.5,692.5 595,719.5" fill="none" stroke="#EA7070" stroke-width="3" stroke-linecap="round" stroke-linejoin="round"/>
<polyline points="227.4,769.7 575,798.75" fill="none" stroke="#EA7070" stroke-width="3" stroke-linecap="round" stroke-linejoin="round"/>
<polyline points="496,864 805.5,792.7" fill="none" stroke="#EA7070" stroke-width="3" stroke-linecap="round" stroke-linejoin="round"/>
<polyline points="240.5,914 525.5,930.9" fill="none" stroke="#EA7070" stroke-width="3" stroke-linecap="round" stroke-linejoin="round"/>
<polyline points="215.5,1003.9 536.7,954.5" fill="none" stroke="#EA7070" stroke-width="3" stroke-linecap="round" stroke-linejoin="round"/>
<polyline points="454.4,1046.2 705.3,862.9" fill="none" stroke="#EA7070" stroke-width="3" stroke-linecap="round" stroke-linejoin="round"/>
<polyline points="467.4,1112.4 707,887" fill="none" stroke="#EA7070" stroke-width="3" stroke-linecap="round" stroke-linejoin="round"/>
<polyline points="615.2,1142.4 741,899.6" fill="none" stroke="#EA7070" stroke-width="3" stroke-linecap="round" stroke-linejoin="round"/>
<polyline points="713.3,274 936.2,235.8" fill="none" stroke="#EA7070" stroke-width="3" stroke-linecap="round" stroke-linejoin="round"/>
<polyline points="745,418.4 965.7,381.5" fill="none" stroke="#EA7070" stroke-width="3" stroke-linecap="round" stroke-linejoin="round"/>
<polyline points="717.2,474.4 941.5,467.4" fill="none" stroke="#EA7070" stroke-width="3" stroke-linecap="round" stroke-linejoin="round"/>
<polyline points="739.8,351.9 1104,289" fill="none" stroke="#EA7070" stroke-width="3" stroke-linecap="round" stroke-linejoin="round"/>
<polyline points="817,549.5 779.9,603.3" fill="none" stroke="#EA7070" stroke-width="3" stroke-linecap="round" stroke-linejoin="round"/>
<polyline points="1046.3,544 902.5,663.3" fill="none" stroke="#EA7070" stroke-width="3" stroke-linecap="round" stroke-linejoin="round"/>
<polyline points="1315.4,552.5 1316,690 1221,690" fill="none" stroke="#EA7070" stroke-width="3" stroke-linecap="round" stroke-linejoin="round"/>
<polyline points="758,1048 1027.6,1050.6" fill="none" stroke="#EA7070" stroke-width="3" stroke-linecap="round" stroke-linejoin="round"/>
<polyline points="883,949 997,884" fill="none" stroke="#EA7070" stroke-width="3" stroke-linecap="round" stroke-linejoin="round"/>
<polyline points="1038.5,1145 738.7,1143.2 738.7,1112" fill="none" stroke="#EA7070" stroke-width="3" stroke-linecap="round" stroke-linejoin="round"/>
<polyline points="611.5,442 678,549" fill="none" stroke="#EA7070" stroke-width="3" stroke-linecap="round"/>
<path d="M680,554.5 L660.8,547.5 L675,546 L683.3,534 Z" fill="#EA7070"/>
<path d="M738.7,1106 L726.2,1121.2 L738.7,1116 L752.5,1122 Z" fill="#EA7070"/>
<path d="M1176.5,820 L1186.5,1047 L1232,1047 M1199,892 L1191.4,1047" stroke="#EA7070" stroke-width="3" stroke-dasharray="6,3" fill="none"/>
<circle cx="684" cy="170" r="7" fill="#EC7474"/>
<circle cx="713.3" cy="274" r="7" fill="#EC7474"/>
<circle cx="681.8" cy="381.2" r="7" fill="#EC7474"/>
<circle cx="578.8" cy="655" r="7" fill="#EC7474"/>
<circle cx="595" cy="719.5" r="7" fill="#EC7474"/>
<circle cx="575" cy="798.75" r="7" fill="#EC7474"/>
<circle cx="673.75" cy="693.25" r="7" fill="#EC7474"/>
<circle cx="779.9" cy="603.3" r="7" fill="#EC7474"/>
<circle cx="805.5" cy="792.7" r="7" fill="#EC7474"/>
<circle cx="525.5" cy="930.9" r="7" fill="#EC7474"/>
<circle cx="536.7" cy="954.5" r="7" fill="#EC7474"/>
<circle cx="705.3" cy="862.9" r="7" fill="#EC7474"/>
<circle cx="741" cy="899.6" r="7" fill="#EC7474"/>
<circle cx="758" cy="1048" r="7" fill="#EC7474"/>
<circle cx="1176.5" cy="819.9" r="7" fill="#EC7474"/>
<circle cx="1199" cy="891.8" r="7" fill="#EC7474"/>
<g font-family="'Liberation Sans', sans-serif">
<text x="123" y="93" textLength="1197" lengthAdjust="spacingAndGlyphs" font-size="50.5" font-weight="bold" fill="#000">Diagram of Acoustic Guitar Anatomy and Parts</text>
<text x="141.6" y="221" textLength="161.2" lengthAdjust="spacingAndGlyphs" font-size="29.5" font-weight="normal" fill="#0b0b0b">Headstock</text>
<text x="220" y="284.4" textLength="181" lengthAdjust="spacingAndGlyphs" font-size="29.5" font-weight="normal" fill="#0b0b0b">Tuning Pegs</text>
<text x="181.6" y="314" textLength="258.6" lengthAdjust="spacingAndGlyphs" font-size="29.5" font-weight="normal" fill="#0b0b0b">(Machine Heads)</text>
<text x="491.0" y="337.8" textLength="73.4" lengthAdjust="spacingAndGlyphs" font-size="29.5" font-weight="normal" fill="#0b0b0b">Frets</text>
<text x="292.2" y="398.6" textLength="150.4" lengthAdjust="spacingAndGlyphs" font-size="29.5" font-weight="normal" fill="#0b0b0b">Fretboard</text>
<text x="542.4" y="438.7" textLength="67.6" lengthAdjust="spacingAndGlyphs" font-size="29.5" font-weight="normal" fill="#0b0b0b">Heel</text>
<text x="158.2" y="479.2" textLength="171.0" lengthAdjust="spacingAndGlyphs" font-size="29.5" font-weight="normal" fill="#0b0b0b">Sound Hole</text>
<text x="492.0" y="501.7" textLength="103.8" lengthAdjust="spacingAndGlyphs" font-size="29.5" font-weight="normal" fill="#0b0b0b">Strings</text>
<text x="58.8" y="574" textLength="168.2" lengthAdjust="spacingAndGlyphs" font-size="29.5" font-weight="normal" fill="#0b0b0b">Upper Bout</text>
<text x="310.0" y="670" textLength="114.0" lengthAdjust="spacingAndGlyphs" font-size="29.5" font-weight="normal" fill="#0b0b0b">Rosette</text>
<text x="137.6" y="702" textLength="79.4" lengthAdjust="spacingAndGlyphs" font-size="29.5" font-weight="normal" fill="#0b0b0b">Sides</text>
<text x="140" y="778.1" textLength="74" lengthAdjust="spacingAndGlyphs" font-size="29.5" font-weight="normal" fill="#0b0b0b">Back</text>
<text x="339" y="875" textLength="152.6" lengthAdjust="spacingAndGlyphs" font-size="29.5" font-weight="normal" fill="#0b0b0b">Pickguard</text>
<text x="65" y="923.3" textLength="164" lengthAdjust="spacingAndGlyphs" font-size="29.5" font-weight="normal" fill="#0b0b0b">Lower Bout</text>
<text x="90" y="1011" textLength="115.8" lengthAdjust="spacingAndGlyphs" font-size="29.5" font-weight="normal" fill="#0b0b0b">Binding</text>
<text x="337.4" y="1057" textLength="105.4" lengthAdjust="spacingAndGlyphs" font-size="29.5" font-weight="normal" fill="#0b0b0b">Saddle</text>
<text x="292.0" y="1122" textLength="165.8" lengthAdjust="spacingAndGlyphs" font-size="29.5" font-weight="normal" fill="#0b0b0b">Bridge Pins</text>
<text x="511.2" y="1155" textLength="96.8" lengthAdjust="spacingAndGlyphs" font-size="29.5" font-weight="normal" fill="#0b0b0b">Bridge</text>
<text x="945.6" y="245" textLength="52.4" lengthAdjust="spacingAndGlyphs" font-size="29.5" font-weight="normal" fill="#0b0b0b">Nut</text>
<text x="974.6" y="390.6" textLength="75.4" lengthAdjust="spacingAndGlyphs" font-size="29.5" font-weight="normal" fill="#0b0b0b">Neck</text>
<text x="950" y="475.6" textLength="280.8" lengthAdjust="spacingAndGlyphs" font-size="29.5" font-weight="normal" fill="#0b0b0b">Fingerboard Inlays</text>
<text x="817.8" y="543" textLength="135.8" lengthAdjust="spacingAndGlyphs" font-size="29.5" font-weight="normal" fill="#0b0b0b">Cutaway</text>
<text x="1055.6" y="546" textLength="77.4" lengthAdjust="spacingAndGlyphs" font-size="29.5" font-weight="normal" fill="#0b0b0b">Body</text>
<text x="1235.6" y="540.9" textLength="155.2" lengthAdjust="spacingAndGlyphs" font-size="29.5" font-weight="normal" fill="#0b0b0b">Neck Joint</text>
<text x="1228.0" y="1034.9" textLength="172.0" lengthAdjust="spacingAndGlyphs" font-size="29.5" font-weight="normal" fill="#0b0b0b">Braces and</text>
<text x="1246.6" y="1064.3" textLength="138.6" lengthAdjust="spacingAndGlyphs" font-size="29.5" font-weight="normal" fill="#0b0b0b">Tonebars</text>
<text x="1041" y="1058" textLength="55.4" lengthAdjust="spacingAndGlyphs" font-size="29.5" font-weight="normal" fill="#0b0b0b">Top</text>
<text x="961.4" y="1088" textLength="214.4" lengthAdjust="spacingAndGlyphs" font-size="29.5" font-weight="normal" fill="#0b0b0b">(Soundboard)</text>
<text x="1051.4" y="1154" textLength="187.4" lengthAdjust="spacingAndGlyphs" font-size="29.5" font-weight="normal" fill="#0b0b0b">Strap Button</text>
<text x="1171.2" y="200" textLength="128.6" lengthAdjust="spacingAndGlyphs" font-size="25" font-weight="bold" fill="#0b0b0b">Truss Rod</text>
<text x="1148.4" y="217.5" textLength="173.6" lengthAdjust="spacingAndGlyphs" font-size="14.5" font-weight="normal" fill="#0b0b0b">(Located inside neck)</text>
<text x="1129.0" y="643.4" textLength="121.0" lengthAdjust="spacingAndGlyphs" font-size="30" font-weight="bold" fill="#3a1c1c">Bracing</text>
</g>
<g transform="translate(15 1110) scale(0.0625)">
<ellipse cx="578" cy="615" rx="467" ry="445" fill="#d23b3b"/>
<path d="M115,245 C250,300 400,350 470,420 L440,560 C330,520 200,420 115,245 Z" fill="#2a2222"/>
<path d="M150,290 C230,340 300,380 380,440 M190,360 C250,400 300,430 360,480 M240,430 C290,460 320,480 350,510" stroke="#fff" stroke-width="28" fill="none" stroke-linecap="round"/>
<ellipse cx="340" cy="870" rx="210" ry="200" transform="rotate(-25 340 870)" fill="#2a2222"/>
<ellipse cx="480" cy="680" rx="150" ry="130" transform="rotate(-25 480 680)" fill="#2a2222"/>
<ellipse cx="640" cy="650" rx="170" ry="150" fill="#2a2222"/>
<path d="M540,700 L1010,420" stroke="#2a2222" stroke-width="80"/>
<path d="M600,650 L990,430" stroke="#fff" stroke-width="34" stroke-dasharray="14,10"/>
<path d="M600,650 L990,430" stroke="#2a2222" stroke-width="10"/>
<ellipse cx="1090" cy="400" rx="110" ry="85" transform="rotate(-30 1090 400)" fill="#2a2222"/>
<circle cx="1060" cy="330" r="18" fill="#fff"/><circle cx="1110" cy="450" r="18" fill="#fff"/>
<path d="M340,760 L440,880" stroke="#fff" stroke-width="60"/>
<path d="M360,770 L430,860" stroke="#2a2222" stroke-width="14" stroke-dasharray="10,10"/>
<path d="M660,820 C720,790 790,830 770,920 C740,980 680,960 690,900 Z" fill="#fff" stroke="#2a2222" stroke-width="20"/>
<path d="M380,640 C400,540 480,500 560,540 L520,600 C470,590 450,620 470,660 C500,700 560,700 600,720 C580,760 540,760 500,750 C420,730 370,700 380,640 Z" fill="#fff"/>
<path d="M780,520 C860,500 960,540 940,600 C900,640 840,640 800,620 Z" fill="#fff"/>
<ellipse cx="675" cy="250" rx="200" ry="130" fill="#2a2222"/>
<path d="M540,300 C540,230 620,250 680,260 C740,250 800,270 800,330 C810,440 740,510 650,500 C570,500 520,430 540,300 Z" fill="#fff"/>
<path d="M520,320 C510,250 560,200 640,190 C600,250 560,280 545,330 Z" fill="#2a2222"/>
<ellipse cx="635" cy="380" rx="20" ry="24" fill="#2a2222"/><ellipse cx="740" cy="385" rx="20" ry="24" fill="#2a2222"/>
<path d="M640,450 C670,480 710,480 740,450" stroke="#2a2222" stroke-width="18" fill="none" stroke-linecap="round"/>
<circle cx="590" cy="425" r="20" fill="#f0a0a0"/><circle cx="760" cy="430" r="20" fill="#f0a0a0"/>
</g>
<text stroke="#2a2020" stroke-width="0.7" font-family="'Liberation Serif', serif" x="95.4" y="1143.9" textLength="86.2" lengthAdjust="spacingAndGlyphs" font-size="25" font-weight="bold" fill="#2a2020">Guitar</text>
<text stroke="#c83c3c" stroke-width="0.7" font-family="'Liberation Serif', serif" x="97" y="1169.4" textLength="124.5" lengthAdjust="spacingAndGlyphs" font-size="25" font-weight="bold" fill="#c83c3c">Wingman</text>
</svg></body></html>
